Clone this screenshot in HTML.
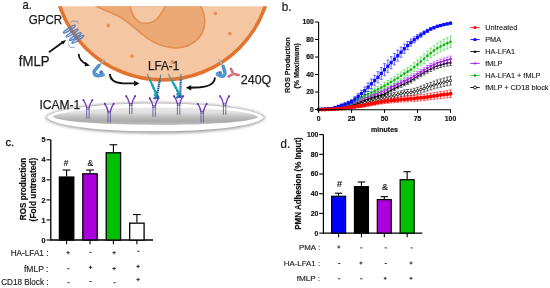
<!DOCTYPE html>
<html><head><meta charset="utf-8"><style>
html,body{margin:0;padding:0;background:#fff;width:550px;height:288px;overflow:hidden}
svg{display:block;will-change:transform}
text{font-family:"Liberation Sans",sans-serif}
</style></head><body>
<svg width="550" height="288" viewBox="0 0 550 288">
<rect width="550" height="288" fill="#fff"/>
<defs>
<clipPath id="cellclip"><rect x="0" y="6.3" width="300" height="120"/></clipPath>
<linearGradient id="plat" x1="0" y1="0" x2="0" y2="1"><stop offset="0" stop-color="#e8e8e8"/><stop offset="0.28" stop-color="#e0e0e0"/><stop offset="0.52" stop-color="#c2c2c2"/><stop offset="0.76" stop-color="#acacac"/><stop offset="0.9" stop-color="#b4b4b4"/><stop offset="1" stop-color="#cacaca"/></linearGradient>
<radialGradient id="platr" cx="0.5" cy="0.75" r="0.6"><stop offset="0" stop-color="#9c9c9c"/><stop offset="0.6" stop-color="#c4c4c4"/><stop offset="1" stop-color="#ececec"/></radialGradient>
<filter id="blur1" x="-20%" y="-50%" width="140%" height="200%"><feGaussianBlur stdDeviation="1.6"/></filter>
<filter id="blur05"><feGaussianBlur stdDeviation="0.35"/></filter>
</defs>
<path d="M 45.0 117.6 C 60 97.6, 250 97.6, 265.4 117.8 C 250 138.6, 60 138.6, 45.0 117.6 Z" fill="#8a8a8a" opacity="0.85" filter="url(#blur1)"/>
<path d="M 46.5 117.2 C 61.5 98.9, 248.9 98.9, 263.9 117.4 C 248.9 136.0, 61.5 136.0, 46.5 117.2 Z" fill="#ffffff"/>
<path d="M 52.5 116.8 C 67.5 104.5, 243.3 104.5, 258.3 117.0 C 243.3 127.6, 67.5 127.6, 52.5 116.8 Z" fill="url(#plat)"/>
<g clip-path="url(#cellclip)">
<circle cx="162.5" cy="-28.5" r="108.4" fill="#f4c7a2" stroke="#e3742f" stroke-width="3.6"/>
<path d="M 94.5 5 C 101 9, 112 13, 118 16 C 126 20, 134 27, 142 34 C 148 40, 160 47, 174 47.8 C 186 48.5, 197 42, 201.5 34 C 205.5 27, 206 17, 202 9 L 200 5 Z" fill="#eca976" stroke="#e38f55" stroke-width="1.7"/>
<path d="M 129.8 5 C 131 12, 134 19, 140 22.5 C 146 24.5, 153 23, 157 19 C 161 15, 163 10, 166.1 5 Z" fill="#f4c7a2" stroke="#e38f55" stroke-width="1.7"/>
<circle cx="108.2" cy="25.5" r="1.9" fill="#e8925a"/>
<circle cx="131.9" cy="56.2" r="1.9" fill="#e8925a"/>
<circle cx="172.4" cy="62" r="1.9" fill="#e8925a"/>
<circle cx="215.3" cy="13.4" r="1.9" fill="#e8925a"/>
<circle cx="229.9" cy="33.6" r="1.9" fill="#e8925a"/>
</g>
<ellipse cx="69.3" cy="29.1" rx="7.0" ry="1.2" transform="rotate(-33 69.3 29.1)" fill="none" stroke="#3d6bb8" stroke-width="1.35"/>
<ellipse cx="69.3" cy="29.1" rx="7.0" ry="1.2" transform="rotate(-33 69.3 29.1)" fill="none" stroke="#78a4e2" stroke-width="0.45"/>
<ellipse cx="72.2" cy="33.0" rx="7.0" ry="1.2" transform="rotate(-33 72.2 33.0)" fill="none" stroke="#3d6bb8" stroke-width="1.35"/>
<ellipse cx="72.2" cy="33.0" rx="7.0" ry="1.2" transform="rotate(-33 72.2 33.0)" fill="none" stroke="#78a4e2" stroke-width="0.45"/>
<ellipse cx="75.2" cy="36.6" rx="7.0" ry="1.2" transform="rotate(-33 75.2 36.6)" fill="none" stroke="#3d6bb8" stroke-width="1.35"/>
<ellipse cx="75.2" cy="36.6" rx="7.0" ry="1.2" transform="rotate(-33 75.2 36.6)" fill="none" stroke="#78a4e2" stroke-width="0.45"/>
<ellipse cx="77.9" cy="39.3" rx="7.0" ry="1.2" transform="rotate(-33 77.9 39.3)" fill="none" stroke="#3d6bb8" stroke-width="1.35"/>
<ellipse cx="77.9" cy="39.3" rx="7.0" ry="1.2" transform="rotate(-33 77.9 39.3)" fill="none" stroke="#78a4e2" stroke-width="0.45"/>
<path d="M 70.5 22.5 L 72.5 21.0 L 77.5 21.4 L 78.6 23.6" fill="none" stroke="#4a78c4" stroke-width="0.65"/>
<path d="M 68.0 43.5 L 70.5 47.6 L 74.8 47.2" fill="none" stroke="#4a78c4" stroke-width="0.65"/>
<text x="22.60" y="8.80" font-size="12.2" text-anchor="start" font-weight="normal" fill="#1a1a1a" textLength="9.30" lengthAdjust="spacingAndGlyphs" stroke="#1a1a1a" stroke-width="0.2">a.</text>
<text x="28.80" y="24.30" font-size="12.4" text-anchor="start" font-weight="normal" fill="#1a1a1a" textLength="33.40" lengthAdjust="spacingAndGlyphs" stroke="#1a1a1a" stroke-width="0.25">GPCR</text>
<text x="18.80" y="66.00" font-size="14" text-anchor="start" font-weight="normal" fill="#1a1a1a" textLength="30.70" lengthAdjust="spacingAndGlyphs" stroke="#1a1a1a" stroke-width="0.25">fMLP</text>
<text x="39.40" y="109.30" font-size="13" text-anchor="start" font-weight="normal" fill="#1a1a1a" textLength="40.80" lengthAdjust="spacingAndGlyphs" stroke="#1a1a1a" stroke-width="0.25">ICAM-1</text>
<text x="148.00" y="70.30" font-size="13" text-anchor="start" font-weight="normal" fill="#1a1a1a" textLength="31.30" lengthAdjust="spacingAndGlyphs" stroke="#1a1a1a" stroke-width="0.25">LFA-1</text>
<text x="240.80" y="83.90" font-size="12.8" text-anchor="start" font-weight="normal" fill="#1a1a1a" textLength="30.45" lengthAdjust="spacingAndGlyphs" stroke="#1a1a1a" stroke-width="0.25">240Q</text>
<line x1="48.9" y1="52.2" x2="63.5" y2="41.8" stroke="#111" stroke-width="1.8"/>
<path d="M 66.2 39.9 L 60.8 41.4 L 63.3 44.6 Z" fill="#111"/>
<path d="M 78.7 53.9 C 78.5 58, 82 62.5, 87 64.5" fill="none" stroke="#111" stroke-width="1.8"/>
<path d="M 90 65.8 L 85.2 61.8 L 84.6 66.2 Z" fill="#111"/>
<path d="M 109.9 73.9 C 110 79, 114 82.5, 122 83.2 L 135 83.4" fill="none" stroke="#111" stroke-width="1.9"/>
<path d="M 139.5 83.4 L 134 80.6 L 134 86.2 Z" fill="#111"/>
<path d="M 215 77.5 C 214.5 83, 210 86.5, 200 87.3 L 190 87.7" fill="none" stroke="#111" stroke-width="1.9"/>
<path d="M 185.8 87.8 L 191.2 85 L 191.2 90.6 Z" fill="#111"/>
<path d="M 104.6 59.4 L 99.4 65.2" fill="none" stroke="#8aa0b8" stroke-width="1.7"/>
<path d="M 104.6 59.4 L 99.4 65.2" fill="none" stroke="#dfe8f0" stroke-width="0.5"/>
<path d="M 98.8 65.6 L 94.2 71.0 C 93.4 74.2, 95.2 76.0, 98.2 75.8 L 102.6 74.8" fill="none" stroke="#4a8bc9" stroke-width="3.4" stroke-linecap="round" stroke-linejoin="round"/>
<circle cx="101.2" cy="72.2" r="2.0" fill="#4583c6"/>
<circle cx="103.2" cy="74.8" r="1.7" fill="#5b9dd4"/>
<circle cx="96.2" cy="74.6" r="2.0" fill="#5b9dd4"/>
<path d="M 98.8 65.6 L 94.2 71.0 C 93.4 74.2, 95.2 76.0, 98.2 75.8 L 102.6 74.8" fill="none" stroke="#5d9fd6" stroke-width="1.2" stroke-linecap="round" stroke-linejoin="round" opacity="0.8"/>
<path d="M 218.8 59.2 L 223.0 66.2" fill="none" stroke="#8aa0b8" stroke-width="1.7"/>
<path d="M 218.8 59.2 L 223.0 66.2" fill="none" stroke="#dfe8f0" stroke-width="0.5"/>
<path d="M 223.2 66.6 L 225.0 72.2 C 225.4 75.6, 223 77, 220.2 76.0 L 217.4 73.8" fill="none" stroke="#4a8bc9" stroke-width="3.4" stroke-linecap="round" stroke-linejoin="round"/>
<circle cx="220.0" cy="73.0" r="2.1" fill="#4583c6"/>
<circle cx="217.6" cy="74.6" r="1.8" fill="#5b9dd4"/>
<circle cx="223.0" cy="75.8" r="1.9" fill="#5b9dd4"/>
<path d="M 223.2 66.6 L 225.0 72.2 C 225.4 75.6, 223 77, 220.2 76.0 L 217.4 73.8" fill="none" stroke="#5d9fd6" stroke-width="1.2" stroke-linecap="round" stroke-linejoin="round" opacity="0.8"/>
<path d="M 233.4 73.8 L 230.8 68.8 M 233.4 73.8 L 238.6 75.0 M 233.4 73.8 L 228.6 76.4" stroke="#c44e58" stroke-width="2.4" fill="none" stroke-linecap="round"/>
<path d="M 233.4 73.8 L 230.8 68.8 M 233.4 73.8 L 238.6 75.0 M 233.4 73.8 L 228.6 76.4" stroke="#f2b8bc" stroke-width="0.6" fill="none" stroke-linecap="round"/>
<line x1="147.2" y1="74" x2="149.7" y2="79.45" stroke="#5f8f9c" stroke-width="1.2"/>
<line x1="149.7" y1="79.45" x2="157.2" y2="95.8" stroke="#1b9fb3" stroke-width="2.0"/>
<circle cx="152.20" cy="84.90" r="1.35" fill="#1b9fb3"/>
<circle cx="153.80" cy="88.39" r="1.35" fill="#1b9fb3"/>
<circle cx="155.20" cy="91.44" r="1.35" fill="#1b9fb3"/>
<line x1="160.8" y1="74.5" x2="159.8" y2="80.025" stroke="#5a7f98" stroke-width="1.2"/>
<line x1="159.8" y1="80.025" x2="156.8" y2="96.6" stroke="#1c68a8" stroke-width="2.2" stroke-dasharray="1.5 0.45"/>
<circle cx="157.2" cy="97.0" r="2.1" fill="#1c68a8"/>
<circle cx="155.39999999999998" cy="95.0" r="1.7" fill="#1b9fb3"/>
<circle cx="154.6" cy="98.2" r="1.2" fill="#1c68a8"/>
<line x1="168.4" y1="74" x2="171.2" y2="79.2" stroke="#5f8f9c" stroke-width="1.2"/>
<line x1="171.2" y1="79.2" x2="179.6" y2="94.8" stroke="#1b9fb3" stroke-width="2.0"/>
<circle cx="174.00" cy="84.40" r="1.35" fill="#1b9fb3"/>
<circle cx="175.79" cy="87.73" r="1.35" fill="#1b9fb3"/>
<circle cx="177.36" cy="90.64" r="1.35" fill="#1b9fb3"/>
<line x1="181.0" y1="74.0" x2="180.8" y2="79.5" stroke="#5a7f98" stroke-width="1.2"/>
<line x1="180.8" y1="79.5" x2="180.2" y2="96.0" stroke="#1c68a8" stroke-width="2.2" stroke-dasharray="1.5 0.45"/>
<circle cx="179.8" cy="96.2" r="2.1" fill="#1c68a8"/>
<circle cx="178.0" cy="94.2" r="1.7" fill="#1b9fb3"/>
<circle cx="177.20000000000002" cy="97.4" r="1.2" fill="#1c68a8"/>
<path d="M 86.7 107.7 L 86.7 118.7 M 89.10000000000001 107.7 L 89.10000000000001 118.7" stroke="#5f4f9e" stroke-width="0.85"/>
<path d="M 83.30000000000001 99.9 Q 85.7 103.10000000000001 86.7 107.7 M 92.5 99.9 Q 90.10000000000001 103.10000000000001 89.10000000000001 107.7" stroke="#7a3fbd" stroke-width="1.35" fill="none" stroke-linecap="round"/>
<circle cx="83.5" cy="100.2" r="0.95" fill="#6a2fb0"/><circle cx="92.30000000000001" cy="100.2" r="0.95" fill="#6a2fb0"/>
<path d="M 86.30000000000001 107.7 L 89.5 107.7 M 86.30000000000001 109.3 L 89.5 109.3" stroke="#4f3a98" stroke-width="0.7"/>
<path d="M 108.0 111.3 L 108.0 122.4 M 110.4 111.3 L 110.4 122.4" stroke="#5f4f9e" stroke-width="0.85"/>
<path d="M 104.60000000000001 103.5 Q 107.0 106.7 108.0 111.3 M 113.8 103.5 Q 111.4 106.7 110.4 111.3" stroke="#7a3fbd" stroke-width="1.35" fill="none" stroke-linecap="round"/>
<circle cx="104.8" cy="103.8" r="0.95" fill="#6a2fb0"/><circle cx="113.60000000000001" cy="103.8" r="0.95" fill="#6a2fb0"/>
<path d="M 107.60000000000001 111.3 L 110.8 111.3 M 107.60000000000001 112.89999999999999 L 110.8 112.89999999999999" stroke="#4f3a98" stroke-width="0.7"/>
<path d="M 129.5 103.8 L 129.5 114.2 M 131.89999999999998 103.8 L 131.89999999999998 114.2" stroke="#5f4f9e" stroke-width="0.85"/>
<path d="M 126.1 96 Q 128.5 99.2 129.5 103.8 M 135.29999999999998 96 Q 132.89999999999998 99.2 131.89999999999998 103.8" stroke="#7a3fbd" stroke-width="1.35" fill="none" stroke-linecap="round"/>
<circle cx="126.29999999999998" cy="96.3" r="0.95" fill="#6a2fb0"/><circle cx="135.1" cy="96.3" r="0.95" fill="#6a2fb0"/>
<path d="M 129.1 103.8 L 132.29999999999998 103.8 M 129.1 105.39999999999999 L 132.29999999999998 105.39999999999999" stroke="#4f3a98" stroke-width="0.7"/>
<path d="M 152.9 105.8 L 152.9 116.9 M 155.29999999999998 105.8 L 155.29999999999998 116.9" stroke="#5f4f9e" stroke-width="0.85"/>
<path d="M 149.5 98 Q 151.9 101.2 152.9 105.8 M 158.7 98 Q 156.29999999999998 101.2 155.29999999999998 105.8" stroke="#7a3fbd" stroke-width="1.35" fill="none" stroke-linecap="round"/>
<circle cx="149.7" cy="98.3" r="0.95" fill="#6a2fb0"/><circle cx="158.5" cy="98.3" r="0.95" fill="#6a2fb0"/>
<path d="M 152.5 105.8 L 155.7 105.8 M 152.5 107.39999999999999 L 155.7 107.39999999999999" stroke="#4f3a98" stroke-width="0.7"/>
<path d="M 177.4 103.8 L 177.4 114.8 M 179.79999999999998 103.8 L 179.79999999999998 114.8" stroke="#5f4f9e" stroke-width="0.85"/>
<path d="M 174.0 96 Q 176.4 99.2 177.4 103.8 M 183.2 96 Q 180.79999999999998 99.2 179.79999999999998 103.8" stroke="#7a3fbd" stroke-width="1.35" fill="none" stroke-linecap="round"/>
<circle cx="174.2" cy="96.3" r="0.95" fill="#6a2fb0"/><circle cx="183.0" cy="96.3" r="0.95" fill="#6a2fb0"/>
<path d="M 177.0 103.8 L 180.2 103.8 M 177.0 105.39999999999999 L 180.2 105.39999999999999" stroke="#4f3a98" stroke-width="0.7"/>
<path d="M 201.0 111.5 L 201.0 122.5 M 203.39999999999998 111.5 L 203.39999999999998 122.5" stroke="#5f4f9e" stroke-width="0.85"/>
<path d="M 197.6 103.7 Q 200.0 106.9 201.0 111.5 M 206.79999999999998 103.7 Q 204.39999999999998 106.9 203.39999999999998 111.5" stroke="#7a3fbd" stroke-width="1.35" fill="none" stroke-linecap="round"/>
<circle cx="197.79999999999998" cy="104.0" r="0.95" fill="#6a2fb0"/><circle cx="206.6" cy="104.0" r="0.95" fill="#6a2fb0"/>
<path d="M 200.6 111.5 L 203.79999999999998 111.5 M 200.6 113.1 L 203.79999999999998 113.1" stroke="#4f3a98" stroke-width="0.7"/>
<path d="M 223.4 103.8 L 223.4 114.8 M 225.79999999999998 103.8 L 225.79999999999998 114.8" stroke="#5f4f9e" stroke-width="0.85"/>
<path d="M 220.0 96 Q 222.4 99.2 223.4 103.8 M 229.2 96 Q 226.79999999999998 99.2 225.79999999999998 103.8" stroke="#7a3fbd" stroke-width="1.35" fill="none" stroke-linecap="round"/>
<circle cx="220.2" cy="96.3" r="0.95" fill="#6a2fb0"/><circle cx="229.0" cy="96.3" r="0.95" fill="#6a2fb0"/>
<path d="M 223.0 103.8 L 226.2 103.8 M 223.0 105.39999999999999 L 226.2 105.39999999999999" stroke="#4f3a98" stroke-width="0.7"/>
<g>
<path d="M 331.79 108.41 L 331.79 110.07 M 330.39 108.41 L 333.19 108.41 M 330.39 110.07 L 333.19 110.07" stroke="#000000" stroke-width="0.75" opacity="0.8"/>
<path d="M 335.09 107.83 L 335.09 109.69 M 333.69 107.83 L 336.49 107.83 M 333.69 109.69 L 336.49 109.69" stroke="#000000" stroke-width="0.75" opacity="0.8"/>
<path d="M 338.38 107.25 L 338.38 109.30 M 336.99 107.25 L 339.78 107.25 M 336.99 109.30 L 339.78 109.30" stroke="#000000" stroke-width="0.75" opacity="0.8"/>
<path d="M 341.68 106.67 L 341.68 108.92 M 340.28 106.67 L 343.08 106.67 M 340.28 108.92 L 343.08 108.92" stroke="#000000" stroke-width="0.75" opacity="0.8"/>
<path d="M 344.98 106.09 L 344.98 108.54 M 343.58 106.09 L 346.38 106.09 M 343.58 108.54 L 346.38 108.54" stroke="#000000" stroke-width="0.75" opacity="0.8"/>
<path d="M 348.28 105.33 L 348.28 107.98 M 346.88 105.33 L 349.68 105.33 M 346.88 107.98 L 349.68 107.98" stroke="#000000" stroke-width="0.75" opacity="0.8"/>
<path d="M 351.58 104.58 L 351.58 107.42 M 350.18 104.58 L 352.98 104.58 M 350.18 107.42 L 352.98 107.42" stroke="#000000" stroke-width="0.75" opacity="0.8"/>
<path d="M 354.87 103.69 L 354.87 106.73 M 353.47 103.69 L 356.27 103.69 M 353.47 106.73 L 356.27 106.73" stroke="#000000" stroke-width="0.75" opacity="0.8"/>
<path d="M 358.17 102.81 L 358.17 106.04 M 356.77 102.81 L 359.57 102.81 M 356.77 106.04 L 359.57 106.04" stroke="#000000" stroke-width="0.75" opacity="0.8"/>
<path d="M 361.47 101.79 L 361.47 105.22 M 360.07 101.79 L 362.87 101.79 M 360.07 105.22 L 362.87 105.22" stroke="#000000" stroke-width="0.75" opacity="0.8"/>
<path d="M 364.76 100.77 L 364.76 104.40 M 363.37 100.77 L 366.16 100.77 M 363.37 104.40 L 366.16 104.40" stroke="#000000" stroke-width="0.75" opacity="0.8"/>
<path d="M 368.06 99.93 L 368.06 103.76 M 366.66 99.93 L 369.46 99.93 M 366.66 103.76 L 369.46 103.76" stroke="#000000" stroke-width="0.75" opacity="0.8"/>
<path d="M 371.36 99.09 L 371.36 103.11 M 369.96 99.09 L 372.76 99.09 M 369.96 103.11 L 372.76 103.11" stroke="#000000" stroke-width="0.75" opacity="0.8"/>
<path d="M 374.66 98.11 L 374.66 102.34 M 373.26 98.11 L 376.06 98.11 M 373.26 102.34 L 376.06 102.34" stroke="#000000" stroke-width="0.75" opacity="0.8"/>
<path d="M 377.96 97.14 L 377.96 101.56 M 376.56 97.14 L 379.36 97.14 M 376.56 101.56 L 379.36 101.56" stroke="#000000" stroke-width="0.75" opacity="0.8"/>
<path d="M 381.25 96.12 L 381.25 100.74 M 379.85 96.12 L 382.65 96.12 M 379.85 100.74 L 382.65 100.74" stroke="#000000" stroke-width="0.75" opacity="0.8"/>
<path d="M 384.55 95.11 L 384.55 99.92 M 383.15 95.11 L 385.95 95.11 M 383.15 99.92 L 385.95 99.92" stroke="#000000" stroke-width="0.75" opacity="0.8"/>
<path d="M 387.85 94.35 L 387.85 99.36 M 386.45 94.35 L 389.25 94.35 M 386.45 99.36 L 389.25 99.36" stroke="#000000" stroke-width="0.75" opacity="0.8"/>
<path d="M 391.14 93.60 L 391.14 98.80 M 389.75 93.60 L 392.54 93.60 M 389.75 98.80 L 392.54 98.80" stroke="#000000" stroke-width="0.75" opacity="0.8"/>
<path d="M 394.44 92.71 L 394.44 98.11 M 393.04 92.71 L 395.84 92.71 M 393.04 98.11 L 395.84 98.11" stroke="#000000" stroke-width="0.75" opacity="0.8"/>
<path d="M 397.74 91.83 L 397.74 97.42 M 396.34 91.83 L 399.14 91.83 M 396.34 97.42 L 399.14 97.42" stroke="#000000" stroke-width="0.75" opacity="0.8"/>
<path d="M 401.04 90.85 L 401.04 96.65 M 399.64 90.85 L 402.44 90.85 M 399.64 96.65 L 402.44 96.65" stroke="#000000" stroke-width="0.75" opacity="0.8"/>
<path d="M 404.34 89.88 L 404.34 95.87 M 402.94 89.88 L 405.74 89.88 M 402.94 95.87 L 405.74 95.87" stroke="#000000" stroke-width="0.75" opacity="0.8"/>
<path d="M 407.63 89.56 L 407.63 95.75 M 406.23 89.56 L 409.03 89.56 M 406.23 95.75 L 409.03 95.75" stroke="#000000" stroke-width="0.75" opacity="0.8"/>
<path d="M 410.93 89.24 L 410.93 95.63 M 409.53 89.24 L 412.33 89.24 M 409.53 95.63 L 412.33 95.63" stroke="#000000" stroke-width="0.75" opacity="0.8"/>
<path d="M 414.23 88.27 L 414.23 94.85 M 412.83 88.27 L 415.63 88.27 M 412.83 94.85 L 415.63 94.85" stroke="#000000" stroke-width="0.75" opacity="0.8"/>
<path d="M 417.52 87.30 L 417.52 94.08 M 416.12 87.30 L 418.92 87.30 M 416.12 94.08 L 418.92 94.08" stroke="#000000" stroke-width="0.75" opacity="0.8"/>
<path d="M 420.82 86.10 L 420.82 93.08 M 419.42 86.10 L 422.22 86.10 M 419.42 93.08 L 422.22 93.08" stroke="#000000" stroke-width="0.75" opacity="0.8"/>
<path d="M 424.12 84.91 L 424.12 92.09 M 422.72 84.91 L 425.52 84.91 M 422.72 92.09 L 425.52 92.09" stroke="#000000" stroke-width="0.75" opacity="0.8"/>
<path d="M 427.42 83.59 L 427.42 90.96 M 426.02 83.59 L 428.82 83.59 M 426.02 90.96 L 428.82 90.96" stroke="#000000" stroke-width="0.75" opacity="0.8"/>
<path d="M 430.72 82.27 L 430.72 89.83 M 429.32 82.27 L 432.12 82.27 M 429.32 89.83 L 432.12 89.83" stroke="#000000" stroke-width="0.75" opacity="0.8"/>
<path d="M 434.01 81.12 L 434.01 88.88 M 432.61 81.12 L 435.41 81.12 M 432.61 88.88 L 435.41 88.88" stroke="#000000" stroke-width="0.75" opacity="0.8"/>
<path d="M 437.31 79.97 L 437.31 87.93 M 435.91 79.97 L 438.71 79.97 M 435.91 87.93 L 438.71 87.93" stroke="#000000" stroke-width="0.75" opacity="0.8"/>
<path d="M 440.61 79.00 L 440.61 87.15 M 439.21 79.00 L 442.01 79.00 M 439.21 87.15 L 442.01 87.15" stroke="#000000" stroke-width="0.75" opacity="0.8"/>
<path d="M 443.90 78.02 L 443.90 86.38 M 442.50 78.02 L 445.30 78.02 M 442.50 86.38 L 445.30 86.38" stroke="#000000" stroke-width="0.75" opacity="0.8"/>
<path d="M 447.20 77.14 L 447.20 85.69 M 445.80 77.14 L 448.60 77.14 M 445.80 85.69 L 448.60 85.69" stroke="#000000" stroke-width="0.75" opacity="0.8"/>
<path d="M 450.50 76.25 L 450.50 85.00 M 449.10 76.25 L 451.90 76.25 M 449.10 85.00 L 451.90 85.00" stroke="#000000" stroke-width="0.75" opacity="0.8"/>
<path d="M 318.60 109.50 L 321.90 109.43 L 325.20 109.37 L 328.49 109.30 L 331.79 109.24 L 335.09 108.76 L 338.38 108.28 L 341.68 107.79 L 344.98 107.31 L 348.28 106.66 L 351.58 106.00 L 354.87 105.21 L 358.17 104.42 L 361.47 103.51 L 364.76 102.59 L 368.06 101.84 L 371.36 101.10 L 374.66 100.22 L 377.96 99.35 L 381.25 98.43 L 384.55 97.51 L 387.85 96.86 L 391.14 96.20 L 394.44 95.41 L 397.74 94.62 L 401.04 93.75 L 404.34 92.88 L 407.63 92.66 L 410.93 92.44 L 414.23 91.56 L 417.52 90.69 L 420.82 89.59 L 424.12 88.50 L 427.42 87.28 L 430.72 86.05 L 434.01 85.00 L 437.31 83.95 L 440.61 83.08 L 443.90 82.20 L 447.20 81.41 L 450.50 80.62" fill="none" stroke="#000000" stroke-width="0.9"/>
<circle cx="318.60" cy="109.50" r="1.2" fill="#fff" stroke="#000" stroke-width="0.7"/>
<circle cx="321.90" cy="109.43" r="1.2" fill="#fff" stroke="#000" stroke-width="0.7"/>
<circle cx="325.20" cy="109.37" r="1.2" fill="#fff" stroke="#000" stroke-width="0.7"/>
<circle cx="328.49" cy="109.30" r="1.2" fill="#fff" stroke="#000" stroke-width="0.7"/>
<circle cx="331.79" cy="109.24" r="1.2" fill="#fff" stroke="#000" stroke-width="0.7"/>
<circle cx="335.09" cy="108.76" r="1.2" fill="#fff" stroke="#000" stroke-width="0.7"/>
<circle cx="338.38" cy="108.28" r="1.2" fill="#fff" stroke="#000" stroke-width="0.7"/>
<circle cx="341.68" cy="107.79" r="1.2" fill="#fff" stroke="#000" stroke-width="0.7"/>
<circle cx="344.98" cy="107.31" r="1.2" fill="#fff" stroke="#000" stroke-width="0.7"/>
<circle cx="348.28" cy="106.66" r="1.2" fill="#fff" stroke="#000" stroke-width="0.7"/>
<circle cx="351.58" cy="106.00" r="1.2" fill="#fff" stroke="#000" stroke-width="0.7"/>
<circle cx="354.87" cy="105.21" r="1.2" fill="#fff" stroke="#000" stroke-width="0.7"/>
<circle cx="358.17" cy="104.42" r="1.2" fill="#fff" stroke="#000" stroke-width="0.7"/>
<circle cx="361.47" cy="103.51" r="1.2" fill="#fff" stroke="#000" stroke-width="0.7"/>
<circle cx="364.76" cy="102.59" r="1.2" fill="#fff" stroke="#000" stroke-width="0.7"/>
<circle cx="368.06" cy="101.84" r="1.2" fill="#fff" stroke="#000" stroke-width="0.7"/>
<circle cx="371.36" cy="101.10" r="1.2" fill="#fff" stroke="#000" stroke-width="0.7"/>
<circle cx="374.66" cy="100.22" r="1.2" fill="#fff" stroke="#000" stroke-width="0.7"/>
<circle cx="377.96" cy="99.35" r="1.2" fill="#fff" stroke="#000" stroke-width="0.7"/>
<circle cx="381.25" cy="98.43" r="1.2" fill="#fff" stroke="#000" stroke-width="0.7"/>
<circle cx="384.55" cy="97.51" r="1.2" fill="#fff" stroke="#000" stroke-width="0.7"/>
<circle cx="387.85" cy="96.86" r="1.2" fill="#fff" stroke="#000" stroke-width="0.7"/>
<circle cx="391.14" cy="96.20" r="1.2" fill="#fff" stroke="#000" stroke-width="0.7"/>
<circle cx="394.44" cy="95.41" r="1.2" fill="#fff" stroke="#000" stroke-width="0.7"/>
<circle cx="397.74" cy="94.62" r="1.2" fill="#fff" stroke="#000" stroke-width="0.7"/>
<circle cx="401.04" cy="93.75" r="1.2" fill="#fff" stroke="#000" stroke-width="0.7"/>
<circle cx="404.34" cy="92.88" r="1.2" fill="#fff" stroke="#000" stroke-width="0.7"/>
<circle cx="407.63" cy="92.66" r="1.2" fill="#fff" stroke="#000" stroke-width="0.7"/>
<circle cx="410.93" cy="92.44" r="1.2" fill="#fff" stroke="#000" stroke-width="0.7"/>
<circle cx="414.23" cy="91.56" r="1.2" fill="#fff" stroke="#000" stroke-width="0.7"/>
<circle cx="417.52" cy="90.69" r="1.2" fill="#fff" stroke="#000" stroke-width="0.7"/>
<circle cx="420.82" cy="89.59" r="1.2" fill="#fff" stroke="#000" stroke-width="0.7"/>
<circle cx="424.12" cy="88.50" r="1.2" fill="#fff" stroke="#000" stroke-width="0.7"/>
<circle cx="427.42" cy="87.28" r="1.2" fill="#fff" stroke="#000" stroke-width="0.7"/>
<circle cx="430.72" cy="86.05" r="1.2" fill="#fff" stroke="#000" stroke-width="0.7"/>
<circle cx="434.01" cy="85.00" r="1.2" fill="#fff" stroke="#000" stroke-width="0.7"/>
<circle cx="437.31" cy="83.95" r="1.2" fill="#fff" stroke="#000" stroke-width="0.7"/>
<circle cx="440.61" cy="83.08" r="1.2" fill="#fff" stroke="#000" stroke-width="0.7"/>
<circle cx="443.90" cy="82.20" r="1.2" fill="#fff" stroke="#000" stroke-width="0.7"/>
<circle cx="447.20" cy="81.41" r="1.2" fill="#fff" stroke="#000" stroke-width="0.7"/>
<circle cx="450.50" cy="80.62" r="1.2" fill="#fff" stroke="#000" stroke-width="0.7"/>
<path d="M 338.38 106.92 L 338.38 108.58 M 336.99 106.92 L 339.78 106.92 M 336.99 108.58 L 339.78 108.58" stroke="#000000" stroke-width="0.75" opacity="0.8"/>
<path d="M 341.68 106.20 L 341.68 107.99 M 340.28 106.20 L 343.08 106.20 M 340.28 107.99 L 343.08 107.99" stroke="#000000" stroke-width="0.75" opacity="0.8"/>
<path d="M 344.98 105.47 L 344.98 107.40 M 343.58 105.47 L 346.38 105.47 M 343.58 107.40 L 346.38 107.40" stroke="#000000" stroke-width="0.75" opacity="0.8"/>
<path d="M 348.28 104.53 L 348.28 106.59 M 346.88 104.53 L 349.68 104.53 M 346.88 106.59 L 349.68 106.59" stroke="#000000" stroke-width="0.75" opacity="0.8"/>
<path d="M 351.58 103.59 L 351.58 105.78 M 350.18 103.59 L 352.98 103.59 M 350.18 105.78 L 352.98 105.78" stroke="#000000" stroke-width="0.75" opacity="0.8"/>
<path d="M 354.87 102.43 L 354.87 104.75 M 353.47 102.43 L 356.27 102.43 M 353.47 104.75 L 356.27 104.75" stroke="#000000" stroke-width="0.75" opacity="0.8"/>
<path d="M 358.17 101.28 L 358.17 103.72 M 356.77 101.28 L 359.57 101.28 M 356.77 103.72 L 359.57 103.72" stroke="#000000" stroke-width="0.75" opacity="0.8"/>
<path d="M 361.47 99.98 L 361.47 102.57 M 360.07 99.98 L 362.87 99.98 M 360.07 102.57 L 362.87 102.57" stroke="#000000" stroke-width="0.75" opacity="0.8"/>
<path d="M 364.76 98.69 L 364.76 101.41 M 363.37 98.69 L 366.16 98.69 M 363.37 101.41 L 366.16 101.41" stroke="#000000" stroke-width="0.75" opacity="0.8"/>
<path d="M 368.06 97.45 L 368.06 100.29 M 366.66 97.45 L 369.46 97.45 M 366.66 100.29 L 369.46 100.29" stroke="#000000" stroke-width="0.75" opacity="0.8"/>
<path d="M 371.36 96.20 L 371.36 99.17 M 369.96 96.20 L 372.76 96.20 M 369.96 99.17 L 372.76 99.17" stroke="#000000" stroke-width="0.75" opacity="0.8"/>
<path d="M 374.66 95.22 L 374.66 98.32 M 373.26 95.22 L 376.06 95.22 M 373.26 98.32 L 376.06 98.32" stroke="#000000" stroke-width="0.75" opacity="0.8"/>
<path d="M 377.96 94.23 L 377.96 97.47 M 376.56 94.23 L 379.36 94.23 M 376.56 97.47 L 379.36 97.47" stroke="#000000" stroke-width="0.75" opacity="0.8"/>
<path d="M 381.25 93.29 L 381.25 96.66 M 379.85 93.29 L 382.65 93.29 M 379.85 96.66 L 382.65 96.66" stroke="#000000" stroke-width="0.75" opacity="0.8"/>
<path d="M 384.55 92.35 L 384.55 95.85 M 383.15 92.35 L 385.95 92.35 M 383.15 95.85 L 385.95 95.85" stroke="#000000" stroke-width="0.75" opacity="0.8"/>
<path d="M 387.85 90.36 L 387.85 93.99 M 386.45 90.36 L 389.25 90.36 M 386.45 93.99 L 389.25 93.99" stroke="#000000" stroke-width="0.75" opacity="0.8"/>
<path d="M 391.14 88.37 L 391.14 92.13 M 389.75 88.37 L 392.54 88.37 M 389.75 92.13 L 392.54 92.13" stroke="#000000" stroke-width="0.75" opacity="0.8"/>
<path d="M 394.44 86.55 L 394.44 90.45 M 393.04 86.55 L 395.84 86.55 M 393.04 90.45 L 395.84 90.45" stroke="#000000" stroke-width="0.75" opacity="0.8"/>
<path d="M 397.74 84.74 L 397.74 88.76 M 396.34 84.74 L 399.14 84.74 M 396.34 88.76 L 399.14 88.76" stroke="#000000" stroke-width="0.75" opacity="0.8"/>
<path d="M 401.04 83.14 L 401.04 87.30 M 399.64 83.14 L 402.44 83.14 M 399.64 87.30 L 402.44 87.30" stroke="#000000" stroke-width="0.75" opacity="0.8"/>
<path d="M 404.34 81.54 L 404.34 85.83 M 402.94 81.54 L 405.74 81.54 M 402.94 85.83 L 405.74 85.83" stroke="#000000" stroke-width="0.75" opacity="0.8"/>
<path d="M 407.63 79.95 L 407.63 84.37 M 406.23 79.95 L 409.03 79.95 M 406.23 84.37 L 409.03 84.37" stroke="#000000" stroke-width="0.75" opacity="0.8"/>
<path d="M 410.93 78.35 L 410.93 82.90 M 409.53 78.35 L 412.33 78.35 M 409.53 82.90 L 412.33 82.90" stroke="#000000" stroke-width="0.75" opacity="0.8"/>
<path d="M 414.23 76.10 L 414.23 80.78 M 412.83 76.10 L 415.63 76.10 M 412.83 80.78 L 415.63 80.78" stroke="#000000" stroke-width="0.75" opacity="0.8"/>
<path d="M 417.52 73.84 L 417.52 78.66 M 416.12 73.84 L 418.92 73.84 M 416.12 78.66 L 418.92 78.66" stroke="#000000" stroke-width="0.75" opacity="0.8"/>
<path d="M 420.82 71.81 L 420.82 76.75 M 419.42 71.81 L 422.22 71.81 M 419.42 76.75 L 422.22 76.75" stroke="#000000" stroke-width="0.75" opacity="0.8"/>
<path d="M 424.12 69.78 L 424.12 74.85 M 422.72 69.78 L 425.52 69.78 M 422.72 74.85 L 425.52 74.85" stroke="#000000" stroke-width="0.75" opacity="0.8"/>
<path d="M 427.42 67.96 L 427.42 73.17 M 426.02 67.96 L 428.82 67.96 M 426.02 73.17 L 428.82 73.17" stroke="#000000" stroke-width="0.75" opacity="0.8"/>
<path d="M 430.72 66.14 L 430.72 71.48 M 429.32 66.14 L 432.12 66.14 M 429.32 71.48 L 432.12 71.48" stroke="#000000" stroke-width="0.75" opacity="0.8"/>
<path d="M 434.01 64.55 L 434.01 70.02 M 432.61 64.55 L 435.41 64.55 M 432.61 70.02 L 435.41 70.02" stroke="#000000" stroke-width="0.75" opacity="0.8"/>
<path d="M 437.31 62.95 L 437.31 68.55 M 435.91 62.95 L 438.71 62.95 M 435.91 68.55 L 438.71 68.55" stroke="#000000" stroke-width="0.75" opacity="0.8"/>
<path d="M 440.61 61.92 L 440.61 67.65 M 439.21 61.92 L 442.01 61.92 M 439.21 67.65 L 442.01 67.65" stroke="#000000" stroke-width="0.75" opacity="0.8"/>
<path d="M 443.90 60.89 L 443.90 66.76 M 442.50 60.89 L 445.30 60.89 M 442.50 66.76 L 445.30 66.76" stroke="#000000" stroke-width="0.75" opacity="0.8"/>
<path d="M 447.20 60.13 L 447.20 66.12 M 445.80 60.13 L 448.60 60.13 M 445.80 66.12 L 448.60 66.12" stroke="#000000" stroke-width="0.75" opacity="0.8"/>
<path d="M 450.50 59.36 L 450.50 65.49 M 449.10 59.36 L 451.90 59.36 M 449.10 65.49 L 451.90 65.49" stroke="#000000" stroke-width="0.75" opacity="0.8"/>
<path d="M 318.60 109.50 L 321.90 109.39 L 325.20 109.28 L 328.49 109.17 L 331.79 109.06 L 335.09 108.41 L 338.38 107.75 L 341.68 107.09 L 344.98 106.44 L 348.28 105.56 L 351.58 104.69 L 354.87 103.59 L 358.17 102.50 L 361.47 101.28 L 364.76 100.05 L 368.06 98.87 L 371.36 97.69 L 374.66 96.77 L 377.96 95.85 L 381.25 94.97 L 384.55 94.10 L 387.85 92.17 L 391.14 90.25 L 394.44 88.50 L 397.74 86.75 L 401.04 85.22 L 404.34 83.69 L 407.63 82.16 L 410.93 80.62 L 414.23 78.44 L 417.52 76.25 L 420.82 74.28 L 424.12 72.31 L 427.42 70.56 L 430.72 68.81 L 434.01 67.28 L 437.31 65.75 L 440.61 64.79 L 443.90 63.83 L 447.20 63.12 L 450.50 62.42" fill="none" stroke="#000000" stroke-width="0.9"/>
<path d="M 318.60 108.00 L 320.10 110.60 L 317.10 110.60 Z" fill="#000000"/>
<path d="M 321.90 107.89 L 323.40 110.49 L 320.40 110.49 Z" fill="#000000"/>
<path d="M 325.20 107.78 L 326.70 110.38 L 323.70 110.38 Z" fill="#000000"/>
<path d="M 328.49 107.67 L 329.99 110.27 L 326.99 110.27 Z" fill="#000000"/>
<path d="M 331.79 107.56 L 333.29 110.16 L 330.29 110.16 Z" fill="#000000"/>
<path d="M 335.09 106.91 L 336.59 109.51 L 333.59 109.51 Z" fill="#000000"/>
<path d="M 338.38 106.25 L 339.88 108.85 L 336.88 108.85 Z" fill="#000000"/>
<path d="M 341.68 105.59 L 343.18 108.19 L 340.18 108.19 Z" fill="#000000"/>
<path d="M 344.98 104.94 L 346.48 107.54 L 343.48 107.54 Z" fill="#000000"/>
<path d="M 348.28 104.06 L 349.78 106.66 L 346.78 106.66 Z" fill="#000000"/>
<path d="M 351.58 103.19 L 353.08 105.79 L 350.08 105.79 Z" fill="#000000"/>
<path d="M 354.87 102.09 L 356.37 104.69 L 353.37 104.69 Z" fill="#000000"/>
<path d="M 358.17 101.00 L 359.67 103.60 L 356.67 103.60 Z" fill="#000000"/>
<path d="M 361.47 99.78 L 362.97 102.38 L 359.97 102.38 Z" fill="#000000"/>
<path d="M 364.76 98.55 L 366.26 101.15 L 363.26 101.15 Z" fill="#000000"/>
<path d="M 368.06 97.37 L 369.56 99.97 L 366.56 99.97 Z" fill="#000000"/>
<path d="M 371.36 96.19 L 372.86 98.79 L 369.86 98.79 Z" fill="#000000"/>
<path d="M 374.66 95.27 L 376.16 97.87 L 373.16 97.87 Z" fill="#000000"/>
<path d="M 377.96 94.35 L 379.46 96.95 L 376.46 96.95 Z" fill="#000000"/>
<path d="M 381.25 93.47 L 382.75 96.07 L 379.75 96.07 Z" fill="#000000"/>
<path d="M 384.55 92.60 L 386.05 95.20 L 383.05 95.20 Z" fill="#000000"/>
<path d="M 387.85 90.67 L 389.35 93.27 L 386.35 93.27 Z" fill="#000000"/>
<path d="M 391.14 88.75 L 392.64 91.35 L 389.64 91.35 Z" fill="#000000"/>
<path d="M 394.44 87.00 L 395.94 89.60 L 392.94 89.60 Z" fill="#000000"/>
<path d="M 397.74 85.25 L 399.24 87.85 L 396.24 87.85 Z" fill="#000000"/>
<path d="M 401.04 83.72 L 402.54 86.32 L 399.54 86.32 Z" fill="#000000"/>
<path d="M 404.34 82.19 L 405.84 84.79 L 402.84 84.79 Z" fill="#000000"/>
<path d="M 407.63 80.66 L 409.13 83.26 L 406.13 83.26 Z" fill="#000000"/>
<path d="M 410.93 79.12 L 412.43 81.72 L 409.43 81.72 Z" fill="#000000"/>
<path d="M 414.23 76.94 L 415.73 79.54 L 412.73 79.54 Z" fill="#000000"/>
<path d="M 417.52 74.75 L 419.02 77.35 L 416.02 77.35 Z" fill="#000000"/>
<path d="M 420.82 72.78 L 422.32 75.38 L 419.32 75.38 Z" fill="#000000"/>
<path d="M 424.12 70.81 L 425.62 73.41 L 422.62 73.41 Z" fill="#000000"/>
<path d="M 427.42 69.06 L 428.92 71.66 L 425.92 71.66 Z" fill="#000000"/>
<path d="M 430.72 67.31 L 432.22 69.91 L 429.22 69.91 Z" fill="#000000"/>
<path d="M 434.01 65.78 L 435.51 68.38 L 432.51 68.38 Z" fill="#000000"/>
<path d="M 437.31 64.25 L 438.81 66.85 L 435.81 66.85 Z" fill="#000000"/>
<path d="M 440.61 63.29 L 442.11 65.89 L 439.11 65.89 Z" fill="#000000"/>
<path d="M 443.90 62.33 L 445.40 64.92 L 442.40 64.92 Z" fill="#000000"/>
<path d="M 447.20 61.62 L 448.70 64.22 L 445.70 64.22 Z" fill="#000000"/>
<path d="M 450.50 60.92 L 452.00 63.52 L 449.00 63.52 Z" fill="#000000"/>
<path d="M 338.38 106.61 L 338.38 108.28 M 336.99 106.61 L 339.78 106.61 M 336.99 108.28 L 339.78 108.28" stroke="#a81ef0" stroke-width="0.75" opacity="0.8"/>
<path d="M 341.68 105.74 L 341.68 107.53 M 340.28 105.74 L 343.08 105.74 M 340.28 107.53 L 343.08 107.53" stroke="#a81ef0" stroke-width="0.75" opacity="0.8"/>
<path d="M 344.98 104.86 L 344.98 106.79 M 343.58 104.86 L 346.38 104.86 M 343.58 106.79 L 346.38 106.79" stroke="#a81ef0" stroke-width="0.75" opacity="0.8"/>
<path d="M 348.28 103.79 L 348.28 105.85 M 346.88 103.79 L 349.68 103.79 M 346.88 105.85 L 349.68 105.85" stroke="#a81ef0" stroke-width="0.75" opacity="0.8"/>
<path d="M 351.58 102.72 L 351.58 104.91 M 350.18 102.72 L 352.98 102.72 M 350.18 104.91 L 352.98 104.91" stroke="#a81ef0" stroke-width="0.75" opacity="0.8"/>
<path d="M 354.87 101.34 L 354.87 103.66 M 353.47 101.34 L 356.27 101.34 M 353.47 103.66 L 356.27 103.66" stroke="#a81ef0" stroke-width="0.75" opacity="0.8"/>
<path d="M 358.17 99.96 L 358.17 102.41 M 356.77 99.96 L 359.57 99.96 M 356.77 102.41 L 359.57 102.41" stroke="#a81ef0" stroke-width="0.75" opacity="0.8"/>
<path d="M 361.47 98.37 L 361.47 100.95 M 360.07 98.37 L 362.87 98.37 M 360.07 100.95 L 362.87 100.95" stroke="#a81ef0" stroke-width="0.75" opacity="0.8"/>
<path d="M 364.76 96.77 L 364.76 99.48 M 363.37 96.77 L 366.16 96.77 M 363.37 99.48 L 366.16 99.48" stroke="#a81ef0" stroke-width="0.75" opacity="0.8"/>
<path d="M 368.06 95.39 L 368.06 98.23 M 366.66 95.39 L 369.46 95.39 M 366.66 98.23 L 369.46 98.23" stroke="#a81ef0" stroke-width="0.75" opacity="0.8"/>
<path d="M 371.36 94.01 L 371.36 96.99 M 369.96 94.01 L 372.76 94.01 M 369.96 96.99 L 372.76 96.99" stroke="#a81ef0" stroke-width="0.75" opacity="0.8"/>
<path d="M 374.66 92.63 L 374.66 95.74 M 373.26 92.63 L 376.06 92.63 M 373.26 95.74 L 376.06 95.74" stroke="#a81ef0" stroke-width="0.75" opacity="0.8"/>
<path d="M 377.96 91.26 L 377.96 94.49 M 376.56 91.26 L 379.36 91.26 M 376.56 94.49 L 379.36 94.49" stroke="#a81ef0" stroke-width="0.75" opacity="0.8"/>
<path d="M 381.25 90.05 L 381.25 93.42 M 379.85 90.05 L 382.65 90.05 M 379.85 93.42 L 382.65 93.42" stroke="#a81ef0" stroke-width="0.75" opacity="0.8"/>
<path d="M 384.55 88.85 L 384.55 92.35 M 383.15 88.85 L 385.95 88.85 M 383.15 92.35 L 385.95 92.35" stroke="#a81ef0" stroke-width="0.75" opacity="0.8"/>
<path d="M 387.85 87.08 L 387.85 90.71 M 386.45 87.08 L 389.25 87.08 M 386.45 90.71 L 389.25 90.71" stroke="#a81ef0" stroke-width="0.75" opacity="0.8"/>
<path d="M 391.14 85.31 L 391.14 89.07 M 389.75 85.31 L 392.54 85.31 M 389.75 89.07 L 392.54 89.07" stroke="#a81ef0" stroke-width="0.75" opacity="0.8"/>
<path d="M 394.44 83.71 L 394.44 87.60 M 393.04 83.71 L 395.84 83.71 M 393.04 87.60 L 395.84 87.60" stroke="#a81ef0" stroke-width="0.75" opacity="0.8"/>
<path d="M 397.74 82.11 L 397.74 86.14 M 396.34 82.11 L 399.14 82.11 M 396.34 86.14 L 399.14 86.14" stroke="#a81ef0" stroke-width="0.75" opacity="0.8"/>
<path d="M 401.04 80.52 L 401.04 84.67 M 399.64 80.52 L 402.44 80.52 M 399.64 84.67 L 402.44 84.67" stroke="#a81ef0" stroke-width="0.75" opacity="0.8"/>
<path d="M 404.34 78.92 L 404.34 83.21 M 402.94 78.92 L 405.74 78.92 M 402.94 83.21 L 405.74 83.21" stroke="#a81ef0" stroke-width="0.75" opacity="0.8"/>
<path d="M 407.63 77.32 L 407.63 81.74 M 406.23 77.32 L 409.03 77.32 M 406.23 81.74 L 409.03 81.74" stroke="#a81ef0" stroke-width="0.75" opacity="0.8"/>
<path d="M 410.93 75.72 L 410.93 80.28 M 409.53 75.72 L 412.33 75.72 M 409.53 80.28 L 412.33 80.28" stroke="#a81ef0" stroke-width="0.75" opacity="0.8"/>
<path d="M 414.23 73.69 L 414.23 78.37 M 412.83 73.69 L 415.63 73.69 M 412.83 78.37 L 415.63 78.37" stroke="#a81ef0" stroke-width="0.75" opacity="0.8"/>
<path d="M 417.52 71.66 L 417.52 76.47 M 416.12 71.66 L 418.92 71.66 M 416.12 76.47 L 418.92 76.47" stroke="#a81ef0" stroke-width="0.75" opacity="0.8"/>
<path d="M 420.82 69.62 L 420.82 74.57 M 419.42 69.62 L 422.22 69.62 M 419.42 74.57 L 422.22 74.57" stroke="#a81ef0" stroke-width="0.75" opacity="0.8"/>
<path d="M 424.12 67.59 L 424.12 72.66 M 422.72 67.59 L 425.52 67.59 M 422.72 72.66 L 425.52 72.66" stroke="#a81ef0" stroke-width="0.75" opacity="0.8"/>
<path d="M 427.42 65.55 L 427.42 70.76 M 426.02 65.55 L 428.82 65.55 M 426.02 70.76 L 428.82 70.76" stroke="#a81ef0" stroke-width="0.75" opacity="0.8"/>
<path d="M 430.72 63.52 L 430.72 68.86 M 429.32 63.52 L 432.12 63.52 M 429.32 68.86 L 432.12 68.86" stroke="#a81ef0" stroke-width="0.75" opacity="0.8"/>
<path d="M 434.01 61.92 L 434.01 67.39 M 432.61 61.92 L 435.41 61.92 M 432.61 67.39 L 435.41 67.39" stroke="#a81ef0" stroke-width="0.75" opacity="0.8"/>
<path d="M 437.31 60.33 L 437.31 65.92 M 435.91 60.33 L 438.71 60.33 M 435.91 65.92 L 438.71 65.92" stroke="#a81ef0" stroke-width="0.75" opacity="0.8"/>
<path d="M 440.61 59.17 L 440.61 64.90 M 439.21 59.17 L 442.01 59.17 M 439.21 64.90 L 442.01 64.90" stroke="#a81ef0" stroke-width="0.75" opacity="0.8"/>
<path d="M 443.90 58.01 L 443.90 63.87 M 442.50 58.01 L 445.30 58.01 M 442.50 63.87 L 445.30 63.87" stroke="#a81ef0" stroke-width="0.75" opacity="0.8"/>
<path d="M 447.20 57.07 L 447.20 63.06 M 445.80 57.07 L 448.60 57.07 M 445.80 63.06 L 448.60 63.06" stroke="#a81ef0" stroke-width="0.75" opacity="0.8"/>
<path d="M 450.50 56.12 L 450.50 62.25 M 449.10 56.12 L 451.90 56.12 M 449.10 62.25 L 451.90 62.25" stroke="#a81ef0" stroke-width="0.75" opacity="0.8"/>
<path d="M 318.60 109.50 L 321.90 109.39 L 325.20 109.28 L 328.49 109.17 L 331.79 109.06 L 335.09 108.25 L 338.38 107.44 L 341.68 106.63 L 344.98 105.83 L 348.28 104.82 L 351.58 103.81 L 354.87 102.50 L 358.17 101.19 L 361.47 99.66 L 364.76 98.12 L 368.06 96.81 L 371.36 95.50 L 374.66 94.19 L 377.96 92.88 L 381.25 91.74 L 384.55 90.60 L 387.85 88.89 L 391.14 87.19 L 394.44 85.66 L 397.74 84.12 L 401.04 82.59 L 404.34 81.06 L 407.63 79.53 L 410.93 78.00 L 414.23 76.03 L 417.52 74.06 L 420.82 72.09 L 424.12 70.12 L 427.42 68.16 L 430.72 66.19 L 434.01 64.66 L 437.31 63.12 L 440.61 62.03 L 443.90 60.94 L 447.20 60.06 L 450.50 59.19" fill="none" stroke="#a81ef0" stroke-width="0.9"/>
<path d="M 318.60 111.00 L 320.10 108.40 L 317.10 108.40 Z" fill="#a81ef0"/>
<path d="M 321.90 110.89 L 323.40 108.29 L 320.40 108.29 Z" fill="#a81ef0"/>
<path d="M 325.20 110.78 L 326.70 108.18 L 323.70 108.18 Z" fill="#a81ef0"/>
<path d="M 328.49 110.67 L 329.99 108.07 L 326.99 108.07 Z" fill="#a81ef0"/>
<path d="M 331.79 110.56 L 333.29 107.96 L 330.29 107.96 Z" fill="#a81ef0"/>
<path d="M 335.09 109.75 L 336.59 107.15 L 333.59 107.15 Z" fill="#a81ef0"/>
<path d="M 338.38 108.94 L 339.88 106.34 L 336.88 106.34 Z" fill="#a81ef0"/>
<path d="M 341.68 108.13 L 343.18 105.53 L 340.18 105.53 Z" fill="#a81ef0"/>
<path d="M 344.98 107.33 L 346.48 104.73 L 343.48 104.73 Z" fill="#a81ef0"/>
<path d="M 348.28 106.32 L 349.78 103.72 L 346.78 103.72 Z" fill="#a81ef0"/>
<path d="M 351.58 105.31 L 353.08 102.71 L 350.08 102.71 Z" fill="#a81ef0"/>
<path d="M 354.87 104.00 L 356.37 101.40 L 353.37 101.40 Z" fill="#a81ef0"/>
<path d="M 358.17 102.69 L 359.67 100.09 L 356.67 100.09 Z" fill="#a81ef0"/>
<path d="M 361.47 101.16 L 362.97 98.56 L 359.97 98.56 Z" fill="#a81ef0"/>
<path d="M 364.76 99.62 L 366.26 97.03 L 363.26 97.03 Z" fill="#a81ef0"/>
<path d="M 368.06 98.31 L 369.56 95.71 L 366.56 95.71 Z" fill="#a81ef0"/>
<path d="M 371.36 97.00 L 372.86 94.40 L 369.86 94.40 Z" fill="#a81ef0"/>
<path d="M 374.66 95.69 L 376.16 93.09 L 373.16 93.09 Z" fill="#a81ef0"/>
<path d="M 377.96 94.38 L 379.46 91.78 L 376.46 91.78 Z" fill="#a81ef0"/>
<path d="M 381.25 93.24 L 382.75 90.64 L 379.75 90.64 Z" fill="#a81ef0"/>
<path d="M 384.55 92.10 L 386.05 89.50 L 383.05 89.50 Z" fill="#a81ef0"/>
<path d="M 387.85 90.39 L 389.35 87.79 L 386.35 87.79 Z" fill="#a81ef0"/>
<path d="M 391.14 88.69 L 392.64 86.09 L 389.64 86.09 Z" fill="#a81ef0"/>
<path d="M 394.44 87.16 L 395.94 84.56 L 392.94 84.56 Z" fill="#a81ef0"/>
<path d="M 397.74 85.62 L 399.24 83.03 L 396.24 83.03 Z" fill="#a81ef0"/>
<path d="M 401.04 84.09 L 402.54 81.49 L 399.54 81.49 Z" fill="#a81ef0"/>
<path d="M 404.34 82.56 L 405.84 79.96 L 402.84 79.96 Z" fill="#a81ef0"/>
<path d="M 407.63 81.03 L 409.13 78.43 L 406.13 78.43 Z" fill="#a81ef0"/>
<path d="M 410.93 79.50 L 412.43 76.90 L 409.43 76.90 Z" fill="#a81ef0"/>
<path d="M 414.23 77.53 L 415.73 74.93 L 412.73 74.93 Z" fill="#a81ef0"/>
<path d="M 417.52 75.56 L 419.02 72.96 L 416.02 72.96 Z" fill="#a81ef0"/>
<path d="M 420.82 73.59 L 422.32 70.99 L 419.32 70.99 Z" fill="#a81ef0"/>
<path d="M 424.12 71.62 L 425.62 69.03 L 422.62 69.03 Z" fill="#a81ef0"/>
<path d="M 427.42 69.66 L 428.92 67.06 L 425.92 67.06 Z" fill="#a81ef0"/>
<path d="M 430.72 67.69 L 432.22 65.09 L 429.22 65.09 Z" fill="#a81ef0"/>
<path d="M 434.01 66.16 L 435.51 63.56 L 432.51 63.56 Z" fill="#a81ef0"/>
<path d="M 437.31 64.62 L 438.81 62.02 L 435.81 62.02 Z" fill="#a81ef0"/>
<path d="M 440.61 63.53 L 442.11 60.93 L 439.11 60.93 Z" fill="#a81ef0"/>
<path d="M 443.90 62.44 L 445.40 59.84 L 442.40 59.84 Z" fill="#a81ef0"/>
<path d="M 447.20 61.56 L 448.70 58.96 L 445.70 58.96 Z" fill="#a81ef0"/>
<path d="M 450.50 60.69 L 452.00 58.09 L 449.00 58.09 Z" fill="#a81ef0"/>
<path d="M 318.60 108.62 L 318.60 110.38 M 317.20 108.62 L 320.00 108.62 M 317.20 110.38 L 320.00 110.38" stroke="#2fd42f" stroke-width="0.75" opacity="0.8"/>
<path d="M 321.90 108.33 L 321.90 110.32 M 320.50 108.33 L 323.30 108.33 M 320.50 110.32 L 323.30 110.32" stroke="#2fd42f" stroke-width="0.75" opacity="0.8"/>
<path d="M 325.20 108.03 L 325.20 110.27 M 323.80 108.03 L 326.60 108.03 M 323.80 110.27 L 326.60 110.27" stroke="#2fd42f" stroke-width="0.75" opacity="0.8"/>
<path d="M 328.49 107.74 L 328.49 110.21 M 327.09 107.74 L 329.89 107.74 M 327.09 110.21 L 329.89 110.21" stroke="#2fd42f" stroke-width="0.75" opacity="0.8"/>
<path d="M 331.79 107.44 L 331.79 110.16 M 330.39 107.44 L 333.19 107.44 M 330.39 110.16 L 333.19 110.16" stroke="#2fd42f" stroke-width="0.75" opacity="0.8"/>
<path d="M 335.09 106.43 L 335.09 109.38 M 333.69 106.43 L 336.49 106.43 M 333.69 109.38 L 336.49 109.38" stroke="#2fd42f" stroke-width="0.75" opacity="0.8"/>
<path d="M 338.38 105.41 L 338.38 108.60 M 336.99 105.41 L 339.78 105.41 M 336.99 108.60 L 339.78 108.60" stroke="#2fd42f" stroke-width="0.75" opacity="0.8"/>
<path d="M 341.68 104.39 L 341.68 107.83 M 340.28 104.39 L 343.08 104.39 M 340.28 107.83 L 343.08 107.83" stroke="#2fd42f" stroke-width="0.75" opacity="0.8"/>
<path d="M 344.98 103.38 L 344.98 107.05 M 343.58 103.38 L 346.38 103.38 M 343.58 107.05 L 346.38 107.05" stroke="#2fd42f" stroke-width="0.75" opacity="0.8"/>
<path d="M 348.28 101.90 L 348.28 105.81 M 346.88 101.90 L 349.68 101.90 M 346.88 105.81 L 349.68 105.81" stroke="#2fd42f" stroke-width="0.75" opacity="0.8"/>
<path d="M 351.58 100.42 L 351.58 104.58 M 350.18 100.42 L 352.98 100.42 M 350.18 104.58 L 352.98 104.58" stroke="#2fd42f" stroke-width="0.75" opacity="0.8"/>
<path d="M 354.87 98.55 L 354.87 102.95 M 353.47 98.55 L 356.27 98.55 M 353.47 102.95 L 356.27 102.95" stroke="#2fd42f" stroke-width="0.75" opacity="0.8"/>
<path d="M 358.17 96.68 L 358.17 101.32 M 356.77 96.68 L 359.57 96.68 M 356.77 101.32 L 359.57 101.32" stroke="#2fd42f" stroke-width="0.75" opacity="0.8"/>
<path d="M 361.47 94.85 L 361.47 99.73 M 360.07 94.85 L 362.87 94.85 M 360.07 99.73 L 362.87 99.73" stroke="#2fd42f" stroke-width="0.75" opacity="0.8"/>
<path d="M 364.76 93.03 L 364.76 98.15 M 363.37 93.03 L 366.16 93.03 M 363.37 98.15 L 366.16 98.15" stroke="#2fd42f" stroke-width="0.75" opacity="0.8"/>
<path d="M 368.06 91.33 L 368.06 96.69 M 366.66 91.33 L 369.46 91.33 M 366.66 96.69 L 369.46 96.69" stroke="#2fd42f" stroke-width="0.75" opacity="0.8"/>
<path d="M 371.36 89.64 L 371.36 95.24 M 369.96 89.64 L 372.76 89.64 M 369.96 95.24 L 372.76 95.24" stroke="#2fd42f" stroke-width="0.75" opacity="0.8"/>
<path d="M 374.66 87.99 L 374.66 93.83 M 373.26 87.99 L 376.06 87.99 M 373.26 93.83 L 376.06 93.83" stroke="#2fd42f" stroke-width="0.75" opacity="0.8"/>
<path d="M 377.96 86.33 L 377.96 92.42 M 376.56 86.33 L 379.36 86.33 M 376.56 92.42 L 379.36 92.42" stroke="#2fd42f" stroke-width="0.75" opacity="0.8"/>
<path d="M 381.25 84.46 L 381.25 90.79 M 379.85 84.46 L 382.65 84.46 M 379.85 90.79 L 382.65 90.79" stroke="#2fd42f" stroke-width="0.75" opacity="0.8"/>
<path d="M 384.55 82.59 L 384.55 89.16 M 383.15 82.59 L 385.95 82.59 M 383.15 89.16 L 385.95 89.16" stroke="#2fd42f" stroke-width="0.75" opacity="0.8"/>
<path d="M 387.85 80.50 L 387.85 87.31 M 386.45 80.50 L 389.25 80.50 M 386.45 87.31 L 389.25 87.31" stroke="#2fd42f" stroke-width="0.75" opacity="0.8"/>
<path d="M 391.14 78.42 L 391.14 85.46 M 389.75 78.42 L 392.54 78.42 M 389.75 85.46 L 392.54 85.46" stroke="#2fd42f" stroke-width="0.75" opacity="0.8"/>
<path d="M 394.44 76.33 L 394.44 83.61 M 393.04 76.33 L 395.84 76.33 M 393.04 83.61 L 395.84 83.61" stroke="#2fd42f" stroke-width="0.75" opacity="0.8"/>
<path d="M 397.74 74.24 L 397.74 81.76 M 396.34 74.24 L 399.14 74.24 M 396.34 81.76 L 399.14 81.76" stroke="#2fd42f" stroke-width="0.75" opacity="0.8"/>
<path d="M 401.04 71.93 L 401.04 79.70 M 399.64 71.93 L 402.44 71.93 M 399.64 79.70 L 402.44 79.70" stroke="#2fd42f" stroke-width="0.75" opacity="0.8"/>
<path d="M 404.34 69.62 L 404.34 77.63 M 402.94 69.62 L 405.74 69.62 M 402.94 77.63 L 405.74 77.63" stroke="#2fd42f" stroke-width="0.75" opacity="0.8"/>
<path d="M 407.63 67.53 L 407.63 75.78 M 406.23 67.53 L 409.03 67.53 M 406.23 75.78 L 409.03 75.78" stroke="#2fd42f" stroke-width="0.75" opacity="0.8"/>
<path d="M 410.93 65.44 L 410.93 73.93 M 409.53 65.44 L 412.33 65.44 M 409.53 73.93 L 412.33 73.93" stroke="#2fd42f" stroke-width="0.75" opacity="0.8"/>
<path d="M 414.23 62.70 L 414.23 71.43 M 412.83 62.70 L 415.63 62.70 M 412.83 71.43 L 415.63 71.43" stroke="#2fd42f" stroke-width="0.75" opacity="0.8"/>
<path d="M 417.52 59.95 L 417.52 68.92 M 416.12 59.95 L 418.92 59.95 M 416.12 68.92 L 418.92 68.92" stroke="#2fd42f" stroke-width="0.75" opacity="0.8"/>
<path d="M 420.82 56.99 L 420.82 66.20 M 419.42 56.99 L 422.22 56.99 M 419.42 66.20 L 422.22 66.20" stroke="#2fd42f" stroke-width="0.75" opacity="0.8"/>
<path d="M 424.12 54.02 L 424.12 63.48 M 422.72 54.02 L 425.52 54.02 M 422.72 63.48 L 425.52 63.48" stroke="#2fd42f" stroke-width="0.75" opacity="0.8"/>
<path d="M 427.42 51.06 L 427.42 60.75 M 426.02 51.06 L 428.82 51.06 M 426.02 60.75 L 428.82 60.75" stroke="#2fd42f" stroke-width="0.75" opacity="0.8"/>
<path d="M 430.72 48.10 L 430.72 58.03 M 429.32 48.10 L 432.12 48.10 M 429.32 58.03 L 432.12 58.03" stroke="#2fd42f" stroke-width="0.75" opacity="0.8"/>
<path d="M 434.01 45.57 L 434.01 55.74 M 432.61 45.57 L 435.41 45.57 M 432.61 55.74 L 435.41 55.74" stroke="#2fd42f" stroke-width="0.75" opacity="0.8"/>
<path d="M 437.31 43.04 L 437.31 53.46 M 435.91 43.04 L 438.71 43.04 M 435.91 53.46 L 438.71 53.46" stroke="#2fd42f" stroke-width="0.75" opacity="0.8"/>
<path d="M 440.61 41.17 L 440.61 51.83 M 439.21 41.17 L 442.01 41.17 M 439.21 51.83 L 442.01 51.83" stroke="#2fd42f" stroke-width="0.75" opacity="0.8"/>
<path d="M 443.90 39.30 L 443.90 50.20 M 442.50 39.30 L 445.30 39.30 M 442.50 50.20 L 445.30 50.20" stroke="#2fd42f" stroke-width="0.75" opacity="0.8"/>
<path d="M 447.20 37.65 L 447.20 48.79 M 445.80 37.65 L 448.60 37.65 M 445.80 48.79 L 448.60 48.79" stroke="#2fd42f" stroke-width="0.75" opacity="0.8"/>
<path d="M 450.50 36.00 L 450.50 47.38 M 449.10 36.00 L 451.90 36.00 M 449.10 47.38 L 451.90 47.38" stroke="#2fd42f" stroke-width="0.75" opacity="0.8"/>
<path d="M 318.60 109.50 L 321.90 109.33 L 325.20 109.15 L 328.49 108.97 L 331.79 108.80 L 335.09 107.90 L 338.38 107.01 L 341.68 106.11 L 344.98 105.21 L 348.28 103.86 L 351.58 102.50 L 354.87 100.75 L 358.17 99.00 L 361.47 97.29 L 364.76 95.59 L 368.06 94.01 L 371.36 92.44 L 374.66 90.91 L 377.96 89.38 L 381.25 87.62 L 384.55 85.88 L 387.85 83.91 L 391.14 81.94 L 394.44 79.97 L 397.74 78.00 L 401.04 75.81 L 404.34 73.62 L 407.63 71.66 L 410.93 69.69 L 414.23 67.06 L 417.52 64.44 L 420.82 61.59 L 424.12 58.75 L 427.42 55.91 L 430.72 53.06 L 434.01 50.66 L 437.31 48.25 L 440.61 46.50 L 443.90 44.75 L 447.20 43.22 L 450.50 41.69" fill="none" stroke="#2fd42f" stroke-width="0.9"/>
<circle cx="318.60" cy="109.50" r="1.3" fill="#14b014"/>
<circle cx="321.90" cy="109.33" r="1.3" fill="#14b014"/>
<circle cx="325.20" cy="109.15" r="1.3" fill="#14b014"/>
<circle cx="328.49" cy="108.97" r="1.3" fill="#14b014"/>
<circle cx="331.79" cy="108.80" r="1.3" fill="#14b014"/>
<circle cx="335.09" cy="107.90" r="1.3" fill="#14b014"/>
<circle cx="338.38" cy="107.01" r="1.3" fill="#14b014"/>
<circle cx="341.68" cy="106.11" r="1.3" fill="#14b014"/>
<circle cx="344.98" cy="105.21" r="1.3" fill="#14b014"/>
<circle cx="348.28" cy="103.86" r="1.3" fill="#14b014"/>
<circle cx="351.58" cy="102.50" r="1.3" fill="#14b014"/>
<circle cx="354.87" cy="100.75" r="1.3" fill="#14b014"/>
<circle cx="358.17" cy="99.00" r="1.3" fill="#14b014"/>
<circle cx="361.47" cy="97.29" r="1.3" fill="#14b014"/>
<circle cx="364.76" cy="95.59" r="1.3" fill="#14b014"/>
<circle cx="368.06" cy="94.01" r="1.3" fill="#14b014"/>
<circle cx="371.36" cy="92.44" r="1.3" fill="#14b014"/>
<circle cx="374.66" cy="90.91" r="1.3" fill="#14b014"/>
<circle cx="377.96" cy="89.38" r="1.3" fill="#14b014"/>
<circle cx="381.25" cy="87.62" r="1.3" fill="#14b014"/>
<circle cx="384.55" cy="85.88" r="1.3" fill="#14b014"/>
<circle cx="387.85" cy="83.91" r="1.3" fill="#14b014"/>
<circle cx="391.14" cy="81.94" r="1.3" fill="#14b014"/>
<circle cx="394.44" cy="79.97" r="1.3" fill="#14b014"/>
<circle cx="397.74" cy="78.00" r="1.3" fill="#14b014"/>
<circle cx="401.04" cy="75.81" r="1.3" fill="#14b014"/>
<circle cx="404.34" cy="73.62" r="1.3" fill="#14b014"/>
<circle cx="407.63" cy="71.66" r="1.3" fill="#14b014"/>
<circle cx="410.93" cy="69.69" r="1.3" fill="#14b014"/>
<circle cx="414.23" cy="67.06" r="1.3" fill="#14b014"/>
<circle cx="417.52" cy="64.44" r="1.3" fill="#14b014"/>
<circle cx="420.82" cy="61.59" r="1.3" fill="#14b014"/>
<circle cx="424.12" cy="58.75" r="1.3" fill="#14b014"/>
<circle cx="427.42" cy="55.91" r="1.3" fill="#14b014"/>
<circle cx="430.72" cy="53.06" r="1.3" fill="#14b014"/>
<circle cx="434.01" cy="50.66" r="1.3" fill="#14b014"/>
<circle cx="437.31" cy="48.25" r="1.3" fill="#14b014"/>
<circle cx="440.61" cy="46.50" r="1.3" fill="#14b014"/>
<circle cx="443.90" cy="44.75" r="1.3" fill="#14b014"/>
<circle cx="447.20" cy="43.22" r="1.3" fill="#14b014"/>
<circle cx="450.50" cy="41.69" r="1.3" fill="#14b014"/>
<path d="M 318.60 108.61 L 318.60 110.39 M 317.20 108.61 L 320.00 108.61 M 317.20 110.39 L 320.00 110.39" stroke="#0a0aff" stroke-width="0.75" opacity="0.8"/>
<path d="M 321.90 108.37 L 321.90 110.19 M 320.50 108.37 L 323.30 108.37 M 320.50 110.19 L 323.30 110.19" stroke="#0a0aff" stroke-width="0.75" opacity="0.8"/>
<path d="M 325.20 108.13 L 325.20 109.99 M 323.80 108.13 L 326.60 108.13 M 323.80 109.99 L 326.60 109.99" stroke="#0a0aff" stroke-width="0.75" opacity="0.8"/>
<path d="M 328.49 107.88 L 328.49 109.81 M 327.09 107.88 L 329.89 107.88 M 327.09 109.81 L 329.89 109.81" stroke="#0a0aff" stroke-width="0.75" opacity="0.8"/>
<path d="M 331.79 107.61 L 331.79 109.64 M 330.39 107.61 L 333.19 107.61 M 330.39 109.64 L 333.19 109.64" stroke="#0a0aff" stroke-width="0.75" opacity="0.8"/>
<path d="M 335.09 106.45 L 335.09 108.62 M 333.69 106.45 L 336.49 106.45 M 333.69 108.62 L 336.49 108.62" stroke="#0a0aff" stroke-width="0.75" opacity="0.8"/>
<path d="M 338.38 105.25 L 338.38 107.62 M 336.99 105.25 L 339.78 105.25 M 336.99 107.62 L 339.78 107.62" stroke="#0a0aff" stroke-width="0.75" opacity="0.8"/>
<path d="M 341.68 104.02 L 341.68 106.67 M 340.28 104.02 L 343.08 104.02 M 340.28 106.67 L 343.08 106.67" stroke="#0a0aff" stroke-width="0.75" opacity="0.8"/>
<path d="M 344.98 102.74 L 344.98 105.76 M 343.58 102.74 L 346.38 102.74 M 343.58 105.76 L 346.38 105.76" stroke="#0a0aff" stroke-width="0.75" opacity="0.8"/>
<path d="M 348.28 101.19 L 348.28 104.68 M 346.88 101.19 L 349.68 101.19 M 346.88 104.68 L 349.68 104.68" stroke="#0a0aff" stroke-width="0.75" opacity="0.8"/>
<path d="M 351.58 99.59 L 351.58 103.66 M 350.18 99.59 L 352.98 99.59 M 350.18 103.66 L 352.98 103.66" stroke="#0a0aff" stroke-width="0.75" opacity="0.8"/>
<path d="M 354.87 96.61 L 354.87 101.39 M 353.47 96.61 L 356.27 96.61 M 353.47 101.39 L 356.27 101.39" stroke="#0a0aff" stroke-width="0.75" opacity="0.8"/>
<path d="M 358.17 93.57 L 358.17 99.18 M 356.77 93.57 L 359.57 93.57 M 356.77 99.18 L 359.57 99.18" stroke="#0a0aff" stroke-width="0.75" opacity="0.8"/>
<path d="M 361.47 90.26 L 361.47 96.80 M 360.07 90.26 L 362.87 90.26 M 360.07 96.80 L 362.87 96.80" stroke="#0a0aff" stroke-width="0.75" opacity="0.8"/>
<path d="M 364.76 86.92 L 364.76 94.45 M 363.37 86.92 L 366.16 86.92 M 363.37 94.45 L 366.16 94.45" stroke="#0a0aff" stroke-width="0.75" opacity="0.8"/>
<path d="M 368.06 82.96 L 368.06 91.51 M 366.66 82.96 L 369.46 82.96 M 366.66 91.51 L 369.46 91.51" stroke="#0a0aff" stroke-width="0.75" opacity="0.8"/>
<path d="M 371.36 79.00 L 371.36 88.55 M 369.96 79.00 L 372.76 79.00 M 369.96 88.55 L 372.76 88.55" stroke="#0a0aff" stroke-width="0.75" opacity="0.8"/>
<path d="M 374.66 75.31 L 374.66 85.77 M 373.26 75.31 L 376.06 75.31 M 373.26 85.77 L 376.06 85.77" stroke="#0a0aff" stroke-width="0.75" opacity="0.8"/>
<path d="M 377.96 71.68 L 377.96 82.92 M 376.56 71.68 L 379.36 71.68 M 376.56 82.92 L 379.36 82.92" stroke="#0a0aff" stroke-width="0.75" opacity="0.8"/>
<path d="M 381.25 67.58 L 381.25 79.40 M 379.85 67.58 L 382.65 67.58 M 379.85 79.40 L 382.65 79.40" stroke="#0a0aff" stroke-width="0.75" opacity="0.8"/>
<path d="M 384.55 63.61 L 384.55 75.77 M 383.15 63.61 L 385.95 63.61 M 383.15 75.77 L 385.95 75.77" stroke="#0a0aff" stroke-width="0.75" opacity="0.8"/>
<path d="M 387.85 60.07 L 387.85 72.31 M 386.45 60.07 L 389.25 60.07 M 386.45 72.31 L 389.25 72.31" stroke="#0a0aff" stroke-width="0.75" opacity="0.8"/>
<path d="M 391.14 56.66 L 391.14 68.72 M 389.75 56.66 L 392.54 56.66 M 389.75 68.72 L 392.54 68.72" stroke="#0a0aff" stroke-width="0.75" opacity="0.8"/>
<path d="M 394.44 53.38 L 394.44 64.99 M 393.04 53.38 L 395.84 53.38 M 393.04 64.99 L 395.84 64.99" stroke="#0a0aff" stroke-width="0.75" opacity="0.8"/>
<path d="M 397.74 50.21 L 397.74 61.16 M 396.34 50.21 L 399.14 50.21 M 396.34 61.16 L 399.14 61.16" stroke="#0a0aff" stroke-width="0.75" opacity="0.8"/>
<path d="M 401.04 47.13 L 401.04 57.24 M 399.64 47.13 L 402.44 47.13 M 399.64 57.24 L 402.44 57.24" stroke="#0a0aff" stroke-width="0.75" opacity="0.8"/>
<path d="M 404.34 44.11 L 404.34 53.27 M 402.94 44.11 L 405.74 44.11 M 402.94 53.27 L 405.74 53.27" stroke="#0a0aff" stroke-width="0.75" opacity="0.8"/>
<path d="M 407.63 41.51 L 407.63 49.65 M 406.23 41.51 L 409.03 41.51 M 406.23 49.65 L 409.03 49.65" stroke="#0a0aff" stroke-width="0.75" opacity="0.8"/>
<path d="M 410.93 38.91 L 410.93 46.04 M 409.53 38.91 L 412.33 38.91 M 409.53 46.04 L 412.33 46.04" stroke="#0a0aff" stroke-width="0.75" opacity="0.8"/>
<path d="M 414.23 36.77 L 414.23 42.93 M 412.83 36.77 L 415.63 36.77 M 412.83 42.93 L 415.63 42.93" stroke="#0a0aff" stroke-width="0.75" opacity="0.8"/>
<path d="M 417.52 34.59 L 417.52 39.86 M 416.12 34.59 L 418.92 34.59 M 416.12 39.86 L 418.92 39.86" stroke="#0a0aff" stroke-width="0.75" opacity="0.8"/>
<path d="M 420.82 32.79 L 420.82 37.28 M 419.42 32.79 L 422.22 32.79 M 419.42 37.28 L 422.22 37.28" stroke="#0a0aff" stroke-width="0.75" opacity="0.8"/>
<path d="M 424.12 30.94 L 424.12 34.76 M 422.72 30.94 L 425.52 30.94 M 422.72 34.76 L 425.52 34.76" stroke="#0a0aff" stroke-width="0.75" opacity="0.8"/>
<path d="M 427.42 29.28 L 427.42 32.57 M 426.02 29.28 L 428.82 29.28 M 426.02 32.57 L 428.82 32.57" stroke="#0a0aff" stroke-width="0.75" opacity="0.8"/>
<path d="M 430.72 27.57 L 430.72 30.43 M 429.32 27.57 L 432.12 27.57 M 429.32 30.43 L 432.12 30.43" stroke="#0a0aff" stroke-width="0.75" opacity="0.8"/>
<path d="M 434.01 26.42 L 434.01 28.95 M 432.61 26.42 L 435.41 26.42 M 432.61 28.95 L 435.41 28.95" stroke="#0a0aff" stroke-width="0.75" opacity="0.8"/>
<path d="M 437.31 25.23 L 437.31 27.52 M 435.91 25.23 L 438.71 25.23 M 435.91 27.52 L 438.71 27.52" stroke="#0a0aff" stroke-width="0.75" opacity="0.8"/>
<path d="M 440.61 24.45 L 440.61 26.55 M 439.21 24.45 L 442.01 24.45 M 439.21 26.55 L 442.01 26.55" stroke="#0a0aff" stroke-width="0.75" opacity="0.8"/>
<path d="M 443.90 23.63 L 443.90 25.62 M 442.50 23.63 L 445.30 23.63 M 442.50 25.62 L 445.30 25.62" stroke="#0a0aff" stroke-width="0.75" opacity="0.8"/>
<path d="M 447.20 22.98 L 447.20 24.87 M 445.80 22.98 L 448.60 22.98 M 445.80 24.87 L 448.60 24.87" stroke="#0a0aff" stroke-width="0.75" opacity="0.8"/>
<path d="M 450.50 22.31 L 450.50 24.14 M 449.10 22.31 L 451.90 22.31 M 449.10 24.14 L 451.90 24.14" stroke="#0a0aff" stroke-width="0.75" opacity="0.8"/>
<path d="M 318.60 109.50 L 321.90 109.28 L 325.20 109.06 L 328.49 108.84 L 331.79 108.62 L 335.09 107.53 L 338.38 106.44 L 341.68 105.34 L 344.98 104.25 L 348.28 102.94 L 351.58 101.62 L 354.87 99.00 L 358.17 96.38 L 361.47 93.53 L 364.76 90.69 L 368.06 87.23 L 371.36 83.78 L 374.66 80.54 L 377.96 77.30 L 381.25 73.49 L 384.55 69.69 L 387.85 66.19 L 391.14 62.69 L 394.44 59.19 L 397.74 55.69 L 401.04 52.19 L 404.34 48.69 L 407.63 45.58 L 410.93 42.48 L 414.23 39.85 L 417.52 37.23 L 420.82 35.04 L 424.12 32.85 L 427.42 30.92 L 430.72 29.00 L 434.01 27.69 L 437.31 26.38 L 440.61 25.50 L 443.90 24.62 L 447.20 23.92 L 450.50 23.22" fill="none" stroke="#0a0aff" stroke-width="0.9"/>
<rect x="317.00" y="107.90" width="3.2" height="3.2" fill="#0a0aff"/>
<rect x="320.30" y="107.68" width="3.2" height="3.2" fill="#0a0aff"/>
<rect x="323.60" y="107.46" width="3.2" height="3.2" fill="#0a0aff"/>
<rect x="326.89" y="107.24" width="3.2" height="3.2" fill="#0a0aff"/>
<rect x="330.19" y="107.03" width="3.2" height="3.2" fill="#0a0aff"/>
<rect x="333.49" y="105.93" width="3.2" height="3.2" fill="#0a0aff"/>
<rect x="336.78" y="104.84" width="3.2" height="3.2" fill="#0a0aff"/>
<rect x="340.08" y="103.74" width="3.2" height="3.2" fill="#0a0aff"/>
<rect x="343.38" y="102.65" width="3.2" height="3.2" fill="#0a0aff"/>
<rect x="346.68" y="101.34" width="3.2" height="3.2" fill="#0a0aff"/>
<rect x="349.98" y="100.03" width="3.2" height="3.2" fill="#0a0aff"/>
<rect x="353.27" y="97.40" width="3.2" height="3.2" fill="#0a0aff"/>
<rect x="356.57" y="94.78" width="3.2" height="3.2" fill="#0a0aff"/>
<rect x="359.87" y="91.93" width="3.2" height="3.2" fill="#0a0aff"/>
<rect x="363.16" y="89.09" width="3.2" height="3.2" fill="#0a0aff"/>
<rect x="366.46" y="85.63" width="3.2" height="3.2" fill="#0a0aff"/>
<rect x="369.76" y="82.18" width="3.2" height="3.2" fill="#0a0aff"/>
<rect x="373.06" y="78.94" width="3.2" height="3.2" fill="#0a0aff"/>
<rect x="376.36" y="75.70" width="3.2" height="3.2" fill="#0a0aff"/>
<rect x="379.65" y="71.89" width="3.2" height="3.2" fill="#0a0aff"/>
<rect x="382.95" y="68.09" width="3.2" height="3.2" fill="#0a0aff"/>
<rect x="386.25" y="64.59" width="3.2" height="3.2" fill="#0a0aff"/>
<rect x="389.54" y="61.09" width="3.2" height="3.2" fill="#0a0aff"/>
<rect x="392.84" y="57.59" width="3.2" height="3.2" fill="#0a0aff"/>
<rect x="396.14" y="54.09" width="3.2" height="3.2" fill="#0a0aff"/>
<rect x="399.44" y="50.59" width="3.2" height="3.2" fill="#0a0aff"/>
<rect x="402.74" y="47.09" width="3.2" height="3.2" fill="#0a0aff"/>
<rect x="406.03" y="43.98" width="3.2" height="3.2" fill="#0a0aff"/>
<rect x="409.33" y="40.88" width="3.2" height="3.2" fill="#0a0aff"/>
<rect x="412.63" y="38.25" width="3.2" height="3.2" fill="#0a0aff"/>
<rect x="415.92" y="35.63" width="3.2" height="3.2" fill="#0a0aff"/>
<rect x="419.22" y="33.44" width="3.2" height="3.2" fill="#0a0aff"/>
<rect x="422.52" y="31.25" width="3.2" height="3.2" fill="#0a0aff"/>
<rect x="425.82" y="29.32" width="3.2" height="3.2" fill="#0a0aff"/>
<rect x="429.12" y="27.40" width="3.2" height="3.2" fill="#0a0aff"/>
<rect x="432.41" y="26.09" width="3.2" height="3.2" fill="#0a0aff"/>
<rect x="435.71" y="24.77" width="3.2" height="3.2" fill="#0a0aff"/>
<rect x="439.01" y="23.90" width="3.2" height="3.2" fill="#0a0aff"/>
<rect x="442.30" y="23.02" width="3.2" height="3.2" fill="#0a0aff"/>
<rect x="445.60" y="22.32" width="3.2" height="3.2" fill="#0a0aff"/>
<rect x="448.90" y="21.62" width="3.2" height="3.2" fill="#0a0aff"/>
<path d="M 325.20 108.56 L 325.20 110.27 M 323.80 108.56 L 326.60 108.56 M 323.80 110.27 L 326.60 110.27" stroke="#ff0000" stroke-width="0.75" opacity="0.8"/>
<path d="M 328.49 108.44 L 328.49 110.30 M 327.09 108.44 L 329.89 108.44 M 327.09 110.30 L 329.89 110.30" stroke="#ff0000" stroke-width="0.75" opacity="0.8"/>
<path d="M 331.79 108.32 L 331.79 110.33 M 330.39 108.32 L 333.19 108.32 M 330.39 110.33 L 333.19 110.33" stroke="#ff0000" stroke-width="0.75" opacity="0.8"/>
<path d="M 335.09 107.96 L 335.09 110.12 M 333.69 107.96 L 336.49 107.96 M 333.69 110.12 L 336.49 110.12" stroke="#ff0000" stroke-width="0.75" opacity="0.8"/>
<path d="M 338.38 107.60 L 338.38 109.92 M 336.99 107.60 L 339.78 107.60 M 336.99 109.92 L 339.78 109.92" stroke="#ff0000" stroke-width="0.75" opacity="0.8"/>
<path d="M 341.68 107.24 L 341.68 109.71 M 340.28 107.24 L 343.08 107.24 M 340.28 109.71 L 343.08 109.71" stroke="#ff0000" stroke-width="0.75" opacity="0.8"/>
<path d="M 344.98 106.88 L 344.98 109.50 M 343.58 106.88 L 346.38 106.88 M 343.58 109.50 L 346.38 109.50" stroke="#ff0000" stroke-width="0.75" opacity="0.8"/>
<path d="M 348.28 106.36 L 348.28 109.14 M 346.88 106.36 L 349.68 106.36 M 346.88 109.14 L 349.68 109.14" stroke="#ff0000" stroke-width="0.75" opacity="0.8"/>
<path d="M 351.58 105.85 L 351.58 108.78 M 350.18 105.85 L 352.98 105.85 M 350.18 108.78 L 352.98 108.78" stroke="#ff0000" stroke-width="0.75" opacity="0.8"/>
<path d="M 354.87 105.20 L 354.87 108.29 M 353.47 105.20 L 356.27 105.20 M 353.47 108.29 L 356.27 108.29" stroke="#ff0000" stroke-width="0.75" opacity="0.8"/>
<path d="M 358.17 104.56 L 358.17 107.79 M 356.77 104.56 L 359.57 104.56 M 356.77 107.79 L 359.57 107.79" stroke="#ff0000" stroke-width="0.75" opacity="0.8"/>
<path d="M 361.47 104.00 L 361.47 107.39 M 360.07 104.00 L 362.87 104.00 M 360.07 107.39 L 362.87 107.39" stroke="#ff0000" stroke-width="0.75" opacity="0.8"/>
<path d="M 364.76 103.44 L 364.76 106.98 M 363.37 103.44 L 366.16 103.44 M 363.37 106.98 L 366.16 106.98" stroke="#ff0000" stroke-width="0.75" opacity="0.8"/>
<path d="M 368.06 102.66 L 368.06 106.36 M 366.66 102.66 L 369.46 102.66 M 366.66 106.36 L 369.46 106.36" stroke="#ff0000" stroke-width="0.75" opacity="0.8"/>
<path d="M 371.36 101.89 L 371.36 105.74 M 369.96 101.89 L 372.76 101.89 M 369.96 105.74 L 372.76 105.74" stroke="#ff0000" stroke-width="0.75" opacity="0.8"/>
<path d="M 374.66 101.15 L 374.66 105.16 M 373.26 101.15 L 376.06 101.15 M 373.26 105.16 L 376.06 105.16" stroke="#ff0000" stroke-width="0.75" opacity="0.8"/>
<path d="M 377.96 100.42 L 377.96 104.58 M 376.56 100.42 L 379.36 100.42 M 376.56 104.58 L 379.36 104.58" stroke="#ff0000" stroke-width="0.75" opacity="0.8"/>
<path d="M 381.25 99.78 L 381.25 104.09 M 379.85 99.78 L 382.65 99.78 M 379.85 104.09 L 382.65 104.09" stroke="#ff0000" stroke-width="0.75" opacity="0.8"/>
<path d="M 384.55 99.13 L 384.55 103.59 M 383.15 99.13 L 385.95 99.13 M 383.15 103.59 L 385.95 103.59" stroke="#ff0000" stroke-width="0.75" opacity="0.8"/>
<path d="M 387.85 98.66 L 387.85 103.28 M 386.45 98.66 L 389.25 98.66 M 386.45 103.28 L 389.25 103.28" stroke="#ff0000" stroke-width="0.75" opacity="0.8"/>
<path d="M 391.14 98.19 L 391.14 102.96 M 389.75 98.19 L 392.54 98.19 M 389.75 102.96 L 392.54 102.96" stroke="#ff0000" stroke-width="0.75" opacity="0.8"/>
<path d="M 394.44 97.76 L 394.44 102.69 M 393.04 97.76 L 395.84 97.76 M 393.04 102.69 L 395.84 102.69" stroke="#ff0000" stroke-width="0.75" opacity="0.8"/>
<path d="M 397.74 97.34 L 397.74 102.41 M 396.34 97.34 L 399.14 97.34 M 396.34 102.41 L 399.14 102.41" stroke="#ff0000" stroke-width="0.75" opacity="0.8"/>
<path d="M 401.04 96.91 L 401.04 102.14 M 399.64 96.91 L 402.44 96.91 M 399.64 102.14 L 402.44 102.14" stroke="#ff0000" stroke-width="0.75" opacity="0.8"/>
<path d="M 404.34 96.48 L 404.34 101.87 M 402.94 96.48 L 405.74 96.48 M 402.94 101.87 L 405.74 101.87" stroke="#ff0000" stroke-width="0.75" opacity="0.8"/>
<path d="M 407.63 96.15 L 407.63 101.68 M 406.23 96.15 L 409.03 96.15 M 406.23 101.68 L 409.03 101.68" stroke="#ff0000" stroke-width="0.75" opacity="0.8"/>
<path d="M 410.93 95.81 L 410.93 101.49 M 409.53 95.81 L 412.33 95.81 M 409.53 101.49 L 412.33 101.49" stroke="#ff0000" stroke-width="0.75" opacity="0.8"/>
<path d="M 414.23 95.47 L 414.23 101.31 M 412.83 95.47 L 415.63 95.47 M 412.83 101.31 L 415.63 101.31" stroke="#ff0000" stroke-width="0.75" opacity="0.8"/>
<path d="M 417.52 95.13 L 417.52 101.12 M 416.12 95.13 L 418.92 95.13 M 416.12 101.12 L 418.92 101.12" stroke="#ff0000" stroke-width="0.75" opacity="0.8"/>
<path d="M 420.82 94.70 L 420.82 100.85 M 419.42 94.70 L 422.22 94.70 M 419.42 100.85 L 422.22 100.85" stroke="#ff0000" stroke-width="0.75" opacity="0.8"/>
<path d="M 424.12 94.28 L 424.12 100.58 M 422.72 94.28 L 425.52 94.28 M 422.72 100.58 L 425.52 100.58" stroke="#ff0000" stroke-width="0.75" opacity="0.8"/>
<path d="M 427.42 93.67 L 427.42 100.13 M 426.02 93.67 L 428.82 93.67 M 426.02 100.13 L 428.82 100.13" stroke="#ff0000" stroke-width="0.75" opacity="0.8"/>
<path d="M 430.72 93.07 L 430.72 99.68 M 429.32 93.07 L 432.12 93.07 M 429.32 99.68 L 432.12 99.68" stroke="#ff0000" stroke-width="0.75" opacity="0.8"/>
<path d="M 434.01 92.56 L 434.01 99.32 M 432.61 92.56 L 435.41 92.56 M 432.61 99.32 L 435.41 99.32" stroke="#ff0000" stroke-width="0.75" opacity="0.8"/>
<path d="M 437.31 92.04 L 437.31 98.96 M 435.91 92.04 L 438.71 92.04 M 435.91 98.96 L 438.71 98.96" stroke="#ff0000" stroke-width="0.75" opacity="0.8"/>
<path d="M 440.61 91.53 L 440.61 98.60 M 439.21 91.53 L 442.01 91.53 M 439.21 98.60 L 442.01 98.60" stroke="#ff0000" stroke-width="0.75" opacity="0.8"/>
<path d="M 443.90 91.02 L 443.90 98.23 M 442.50 91.02 L 445.30 91.02 M 442.50 98.23 L 445.30 98.23" stroke="#ff0000" stroke-width="0.75" opacity="0.8"/>
<path d="M 447.20 90.50 L 447.20 97.87 M 445.80 90.50 L 448.60 90.50 M 445.80 97.87 L 448.60 97.87" stroke="#ff0000" stroke-width="0.75" opacity="0.8"/>
<path d="M 450.50 89.99 L 450.50 97.51 M 449.10 89.99 L 451.90 89.99 M 449.10 97.51 L 451.90 97.51" stroke="#ff0000" stroke-width="0.75" opacity="0.8"/>
<path d="M 318.60 109.50 L 321.90 109.46 L 325.20 109.41 L 328.49 109.37 L 331.79 109.33 L 335.09 109.04 L 338.38 108.76 L 341.68 108.47 L 344.98 108.19 L 348.28 107.75 L 351.58 107.31 L 354.87 106.74 L 358.17 106.17 L 361.47 105.69 L 364.76 105.21 L 368.06 104.51 L 371.36 103.81 L 374.66 103.16 L 377.96 102.50 L 381.25 101.93 L 384.55 101.36 L 387.85 100.97 L 391.14 100.58 L 394.44 100.22 L 397.74 99.88 L 401.04 99.53 L 404.34 99.17 L 407.63 98.91 L 410.93 98.65 L 414.23 98.39 L 417.52 98.12 L 420.82 97.78 L 424.12 97.42 L 427.42 96.90 L 430.72 96.38 L 434.01 95.94 L 437.31 95.50 L 440.61 95.06 L 443.90 94.62 L 447.20 94.19 L 450.50 93.75" fill="none" stroke="#ff0000" stroke-width="0.9"/>
<circle cx="318.60" cy="109.50" r="2.0" fill="#ff0000"/>
<circle cx="321.90" cy="109.46" r="2.0" fill="#ff0000"/>
<circle cx="325.20" cy="109.41" r="2.0" fill="#ff0000"/>
<circle cx="328.49" cy="109.37" r="2.0" fill="#ff0000"/>
<circle cx="331.79" cy="109.33" r="2.0" fill="#ff0000"/>
<circle cx="335.09" cy="109.04" r="2.0" fill="#ff0000"/>
<circle cx="338.38" cy="108.76" r="2.0" fill="#ff0000"/>
<circle cx="341.68" cy="108.47" r="2.0" fill="#ff0000"/>
<circle cx="344.98" cy="108.19" r="2.0" fill="#ff0000"/>
<circle cx="348.28" cy="107.75" r="2.0" fill="#ff0000"/>
<circle cx="351.58" cy="107.31" r="2.0" fill="#ff0000"/>
<circle cx="354.87" cy="106.74" r="2.0" fill="#ff0000"/>
<circle cx="358.17" cy="106.17" r="2.0" fill="#ff0000"/>
<circle cx="361.47" cy="105.69" r="2.0" fill="#ff0000"/>
<circle cx="364.76" cy="105.21" r="2.0" fill="#ff0000"/>
<circle cx="368.06" cy="104.51" r="2.0" fill="#ff0000"/>
<circle cx="371.36" cy="103.81" r="2.0" fill="#ff0000"/>
<circle cx="374.66" cy="103.16" r="2.0" fill="#ff0000"/>
<circle cx="377.96" cy="102.50" r="2.0" fill="#ff0000"/>
<circle cx="381.25" cy="101.93" r="2.0" fill="#ff0000"/>
<circle cx="384.55" cy="101.36" r="2.0" fill="#ff0000"/>
<circle cx="387.85" cy="100.97" r="2.0" fill="#ff0000"/>
<circle cx="391.14" cy="100.58" r="2.0" fill="#ff0000"/>
<circle cx="394.44" cy="100.22" r="2.0" fill="#ff0000"/>
<circle cx="397.74" cy="99.88" r="2.0" fill="#ff0000"/>
<circle cx="401.04" cy="99.53" r="2.0" fill="#ff0000"/>
<circle cx="404.34" cy="99.17" r="2.0" fill="#ff0000"/>
<circle cx="407.63" cy="98.91" r="2.0" fill="#ff0000"/>
<circle cx="410.93" cy="98.65" r="2.0" fill="#ff0000"/>
<circle cx="414.23" cy="98.39" r="2.0" fill="#ff0000"/>
<circle cx="417.52" cy="98.12" r="2.0" fill="#ff0000"/>
<circle cx="420.82" cy="97.78" r="2.0" fill="#ff0000"/>
<circle cx="424.12" cy="97.42" r="2.0" fill="#ff0000"/>
<circle cx="427.42" cy="96.90" r="2.0" fill="#ff0000"/>
<circle cx="430.72" cy="96.38" r="2.0" fill="#ff0000"/>
<circle cx="434.01" cy="95.94" r="2.0" fill="#ff0000"/>
<circle cx="437.31" cy="95.50" r="2.0" fill="#ff0000"/>
<circle cx="440.61" cy="95.06" r="2.0" fill="#ff0000"/>
<circle cx="443.90" cy="94.62" r="2.0" fill="#ff0000"/>
<circle cx="447.20" cy="94.19" r="2.0" fill="#ff0000"/>
<circle cx="450.50" cy="93.75" r="2.0" fill="#ff0000"/>
</g>
<path d="M 318.6 22.0 L 318.6 109.8 L 450.5 109.8" fill="none" stroke="#000" stroke-width="1.1"/>
<line x1="315.0" y1="109.50" x2="318.6" y2="109.50" stroke="#000" stroke-width="1"/>
<text x="313.90" y="111.90" font-size="6.8" text-anchor="end" font-weight="bold" fill="#111" stroke="#111" stroke-width="0.18">0</text>
<line x1="315.0" y1="92.00" x2="318.6" y2="92.00" stroke="#000" stroke-width="1"/>
<text x="313.90" y="94.40" font-size="6.8" text-anchor="end" font-weight="bold" fill="#111" stroke="#111" stroke-width="0.18">20</text>
<line x1="315.0" y1="74.50" x2="318.6" y2="74.50" stroke="#000" stroke-width="1"/>
<text x="313.90" y="76.90" font-size="6.8" text-anchor="end" font-weight="bold" fill="#111" stroke="#111" stroke-width="0.18">40</text>
<line x1="315.0" y1="57.00" x2="318.6" y2="57.00" stroke="#000" stroke-width="1"/>
<text x="313.90" y="59.40" font-size="6.8" text-anchor="end" font-weight="bold" fill="#111" stroke="#111" stroke-width="0.18">60</text>
<line x1="315.0" y1="39.50" x2="318.6" y2="39.50" stroke="#000" stroke-width="1"/>
<text x="313.90" y="41.90" font-size="6.8" text-anchor="end" font-weight="bold" fill="#111" stroke="#111" stroke-width="0.18">80</text>
<line x1="315.0" y1="22.00" x2="318.6" y2="22.00" stroke="#000" stroke-width="1"/>
<text x="313.90" y="24.40" font-size="6.8" text-anchor="end" font-weight="bold" fill="#111" stroke="#111" stroke-width="0.18">100</text>
<line x1="318.60" y1="109.5" x2="318.60" y2="112.9" stroke="#000" stroke-width="1"/>
<text x="318.60" y="121.00" font-size="6.8" text-anchor="middle" font-weight="bold" fill="#111" stroke="#111" stroke-width="0.18">0</text>
<line x1="351.58" y1="109.5" x2="351.58" y2="112.9" stroke="#000" stroke-width="1"/>
<text x="351.58" y="121.00" font-size="6.8" text-anchor="middle" font-weight="bold" fill="#111" stroke="#111" stroke-width="0.18">25</text>
<line x1="384.55" y1="109.5" x2="384.55" y2="112.9" stroke="#000" stroke-width="1"/>
<text x="384.55" y="121.00" font-size="6.8" text-anchor="middle" font-weight="bold" fill="#111" stroke="#111" stroke-width="0.18">50</text>
<line x1="417.52" y1="109.5" x2="417.52" y2="112.9" stroke="#000" stroke-width="1"/>
<text x="417.52" y="121.00" font-size="6.8" text-anchor="middle" font-weight="bold" fill="#111" stroke="#111" stroke-width="0.18">75</text>
<line x1="450.50" y1="109.5" x2="450.50" y2="112.9" stroke="#000" stroke-width="1"/>
<text x="450.50" y="121.00" font-size="6.8" text-anchor="middle" font-weight="bold" fill="#111" stroke="#111" stroke-width="0.18">100</text>
<text x="384.50" y="131.60" font-size="8.0" text-anchor="middle" font-weight="bold" fill="#111" textLength="27.00" lengthAdjust="spacingAndGlyphs" stroke="#111" stroke-width="0.18">minutes</text>
<g transform="translate(289.6 65.1) rotate(-90)">
<text x="0.00" y="0.00" font-size="7.9" text-anchor="middle" font-weight="bold" fill="#111" textLength="55.60" lengthAdjust="spacingAndGlyphs" stroke="#111" stroke-width="0.18">ROS Production</text>
</g>
<g transform="translate(298.6 65.8) rotate(-90)">
<text x="0.00" y="0.00" font-size="7.9" text-anchor="middle" font-weight="bold" fill="#111" textLength="45.50" lengthAdjust="spacingAndGlyphs" stroke="#111" stroke-width="0.18">(% Maximum)</text>
</g>
<text x="281.70" y="10.80" font-size="12.2" text-anchor="start" font-weight="normal" fill="#1a1a1a" textLength="9.80" lengthAdjust="spacingAndGlyphs" stroke="#1a1a1a" stroke-width="0.2">b.</text>
<line x1="470.3" y1="27.60" x2="479.7" y2="27.60" stroke="#ff0000" stroke-width="0.9"/>
<circle cx="475" cy="27.60" r="1.5" fill="#ff0000"/>
<text x="485.20" y="30.35" font-size="7.35" text-anchor="start" font-weight="normal" fill="#1a1a1a" stroke="#1a1a1a" stroke-width="0.12">Untreated</text>
<line x1="470.3" y1="39.58" x2="479.7" y2="39.58" stroke="#0a0aff" stroke-width="0.9"/>
<rect x="473.6" y="38.18" width="2.8" height="2.8" fill="#0a0aff"/>
<text x="485.20" y="42.33" font-size="7.35" text-anchor="start" font-weight="normal" fill="#1a1a1a" stroke="#1a1a1a" stroke-width="0.12">PMA</text>
<line x1="470.3" y1="51.56" x2="479.7" y2="51.56" stroke="#000" stroke-width="0.9"/>
<path d="M 475 50.06 L 476.5 52.66 L 473.5 52.66 Z" fill="#000"/>
<text x="485.20" y="54.31" font-size="7.35" text-anchor="start" font-weight="normal" fill="#1a1a1a" stroke="#1a1a1a" stroke-width="0.12">HA-LFA1</text>
<line x1="470.3" y1="63.54" x2="479.7" y2="63.54" stroke="#a81ef0" stroke-width="0.9"/>
<path d="M 475 65.04 L 476.5 62.44 L 473.5 62.44 Z" fill="#a81ef0"/>
<text x="485.20" y="66.29" font-size="7.35" text-anchor="start" font-weight="normal" fill="#1a1a1a" stroke="#1a1a1a" stroke-width="0.12">fMLP</text>
<line x1="470.3" y1="75.52" x2="479.7" y2="75.52" stroke="#2fd42f" stroke-width="0.9"/>
<circle cx="475" cy="75.52" r="1.2" fill="#109010"/>
<text x="485.20" y="78.27" font-size="7.35" text-anchor="start" font-weight="normal" fill="#1a1a1a" stroke="#1a1a1a" stroke-width="0.12">HA-LFA1 + fMLP</text>
<line x1="470.3" y1="87.50" x2="479.7" y2="87.50" stroke="#000" stroke-width="0.9"/>
<circle cx="475" cy="87.50" r="1.5" fill="#fff" stroke="#000" stroke-width="0.9"/>
<text x="485.20" y="90.25" font-size="7.35" text-anchor="start" font-weight="normal" fill="#1a1a1a" stroke="#1a1a1a" stroke-width="0.12">fMLP + CD18 block</text>
<path d="M 50.8 139.75 L 50.8 240.0 L 153 240.0" fill="none" stroke="#000" stroke-width="1.3"/>
<line x1="46.5" y1="240.00" x2="50.8" y2="240.00" stroke="#000" stroke-width="1.1"/>
<text x="45.60" y="242.60" font-size="7.2" text-anchor="end" font-weight="bold" fill="#111" stroke="#111" stroke-width="0.18">0</text>
<line x1="46.5" y1="219.95" x2="50.8" y2="219.95" stroke="#000" stroke-width="1.1"/>
<text x="45.60" y="222.55" font-size="7.2" text-anchor="end" font-weight="bold" fill="#111" stroke="#111" stroke-width="0.18">1</text>
<line x1="46.5" y1="199.90" x2="50.8" y2="199.90" stroke="#000" stroke-width="1.1"/>
<text x="45.60" y="202.50" font-size="7.2" text-anchor="end" font-weight="bold" fill="#111" stroke="#111" stroke-width="0.18">2</text>
<line x1="46.5" y1="179.85" x2="50.8" y2="179.85" stroke="#000" stroke-width="1.1"/>
<text x="45.60" y="182.45" font-size="7.2" text-anchor="end" font-weight="bold" fill="#111" stroke="#111" stroke-width="0.18">3</text>
<line x1="46.5" y1="159.80" x2="50.8" y2="159.80" stroke="#000" stroke-width="1.1"/>
<text x="45.60" y="162.40" font-size="7.2" text-anchor="end" font-weight="bold" fill="#111" stroke="#111" stroke-width="0.18">4</text>
<line x1="46.5" y1="139.75" x2="50.8" y2="139.75" stroke="#000" stroke-width="1.1"/>
<text x="45.60" y="142.35" font-size="7.2" text-anchor="end" font-weight="bold" fill="#111" stroke="#111" stroke-width="0.18">5</text>
<line x1="66.6" y1="170.03" x2="66.6" y2="176.44" stroke="#000" stroke-width="1.1"/>
<line x1="62.699999999999996" y1="170.03" x2="70.5" y2="170.03" stroke="#000" stroke-width="1.1"/>
<rect x="59.39999999999999" y="177.04" width="14.4" height="62.96" fill="#000000" stroke="#000" stroke-width="1.3"/>
<line x1="66.6" y1="240.0" x2="66.6" y2="244.2" stroke="#000" stroke-width="1.1"/>
<line x1="90.0" y1="170.03" x2="90.0" y2="173.23" stroke="#000" stroke-width="1.1"/>
<line x1="86.1" y1="170.03" x2="93.9" y2="170.03" stroke="#000" stroke-width="1.1"/>
<rect x="82.8" y="173.83" width="14.4" height="66.17" fill="#a900dc" stroke="#000" stroke-width="1.3"/>
<line x1="90.0" y1="240.0" x2="90.0" y2="244.2" stroke="#000" stroke-width="1.1"/>
<line x1="113.4" y1="144.76" x2="113.4" y2="152.18" stroke="#000" stroke-width="1.1"/>
<line x1="109.5" y1="144.76" x2="117.30000000000001" y2="144.76" stroke="#000" stroke-width="1.1"/>
<rect x="106.2" y="152.78" width="14.4" height="87.22" fill="#00c000" stroke="#000" stroke-width="1.3"/>
<line x1="113.4" y1="240.0" x2="113.4" y2="244.2" stroke="#000" stroke-width="1.1"/>
<line x1="136.9" y1="214.54" x2="136.9" y2="222.56" stroke="#000" stroke-width="1.1"/>
<line x1="133.0" y1="214.54" x2="140.8" y2="214.54" stroke="#000" stroke-width="1.1"/>
<rect x="129.70000000000002" y="223.16" width="14.4" height="16.84" fill="#ffffff" stroke="#000" stroke-width="1.3"/>
<line x1="136.9" y1="240.0" x2="136.9" y2="244.2" stroke="#000" stroke-width="1.1"/>
<text x="66.20" y="166.00" font-size="8.4" text-anchor="middle" font-weight="normal" fill="#111" stroke="#111" stroke-width="0.15">#</text>
<text x="90.40" y="166.00" font-size="8.4" text-anchor="middle" font-weight="normal" fill="#111" stroke="#111" stroke-width="0.15">&amp;</text>
<g transform="translate(26.0 189.0) rotate(-90)">
<text x="0.00" y="0.00" font-size="8.6" text-anchor="middle" font-weight="bold" fill="#111" textLength="62.50" lengthAdjust="spacingAndGlyphs" stroke="#111" stroke-width="0.18">ROS production</text>
</g>
<g transform="translate(36.0 189.6) rotate(-90)">
<text x="0.00" y="0.00" font-size="8.6" text-anchor="middle" font-weight="bold" fill="#111" textLength="63.60" lengthAdjust="spacingAndGlyphs" stroke="#111" stroke-width="0.18">(Fold untreated)</text>
</g>
<text x="5.60" y="146.30" font-size="11" text-anchor="start" font-weight="normal" fill="#1a1a1a" textLength="8.60" lengthAdjust="spacingAndGlyphs" stroke="#1a1a1a" stroke-width="0.35">c.</text>
<text x="48.50" y="256.20" font-size="8.6" text-anchor="end" font-weight="normal" fill="#222" textLength="37.80" lengthAdjust="spacingAndGlyphs" stroke="#222" stroke-width="0.15">HA-LFA1 :</text>
<text x="48.50" y="271.70" font-size="8.6" text-anchor="end" font-weight="normal" fill="#222" textLength="24.60" lengthAdjust="spacingAndGlyphs" stroke="#222" stroke-width="0.15">fMLP :</text>
<text x="48.50" y="284.60" font-size="8.6" text-anchor="end" font-weight="normal" fill="#222" textLength="47.30" lengthAdjust="spacingAndGlyphs" stroke="#222" stroke-width="0.15">CD18 Block :</text>
<path d="M 66.40 252.70 L 69.80 252.70 M 68.10 251.00 L 68.10 254.40" stroke="#2a2a2a" stroke-width="0.95"/>
<path d="M 89.30 252.40 L 91.70 252.40" stroke="#2a2a2a" stroke-width="0.9"/>
<path d="M 112.40 252.70 L 115.80 252.70 M 114.10 251.00 L 114.10 254.40" stroke="#2a2a2a" stroke-width="0.95"/>
<path d="M 137.10 251.30 L 139.50 251.30" stroke="#2a2a2a" stroke-width="0.9"/>
<path d="M 67.10 268.70 L 69.50 268.70" stroke="#2a2a2a" stroke-width="0.9"/>
<path d="M 88.80 267.30 L 92.20 267.30 M 90.50 265.60 L 90.50 269.00" stroke="#2a2a2a" stroke-width="0.95"/>
<path d="M 112.40 268.50 L 115.80 268.50 M 114.10 266.80 L 114.10 270.20" stroke="#2a2a2a" stroke-width="0.95"/>
<path d="M 136.40 266.40 L 139.80 266.40 M 138.10 264.70 L 138.10 268.10" stroke="#2a2a2a" stroke-width="0.95"/>
<path d="M 67.40 282.70 L 69.80 282.70" stroke="#2a2a2a" stroke-width="0.9"/>
<path d="M 89.30 281.50 L 91.70 281.50" stroke="#2a2a2a" stroke-width="0.9"/>
<path d="M 113.40 282.70 L 115.80 282.70" stroke="#2a2a2a" stroke-width="0.9"/>
<path d="M 136.40 279.60 L 139.80 279.60 M 138.10 277.90 L 138.10 281.30" stroke="#2a2a2a" stroke-width="0.95"/>
<path d="M 323.4 134.6 L 323.4 233.1 L 422.3 233.1" fill="none" stroke="#000" stroke-width="1.2"/>
<line x1="319.2" y1="233.10" x2="323.4" y2="233.10" stroke="#000" stroke-width="1.1"/>
<text x="318.30" y="235.50" font-size="6.8" text-anchor="end" font-weight="bold" fill="#111" stroke="#111" stroke-width="0.18">0</text>
<line x1="319.2" y1="213.40" x2="323.4" y2="213.40" stroke="#000" stroke-width="1.1"/>
<text x="318.30" y="215.80" font-size="6.8" text-anchor="end" font-weight="bold" fill="#111" stroke="#111" stroke-width="0.18">20</text>
<line x1="319.2" y1="193.70" x2="323.4" y2="193.70" stroke="#000" stroke-width="1.1"/>
<text x="318.30" y="196.10" font-size="6.8" text-anchor="end" font-weight="bold" fill="#111" stroke="#111" stroke-width="0.18">40</text>
<line x1="319.2" y1="174.00" x2="323.4" y2="174.00" stroke="#000" stroke-width="1.1"/>
<text x="318.30" y="176.40" font-size="6.8" text-anchor="end" font-weight="bold" fill="#111" stroke="#111" stroke-width="0.18">60</text>
<line x1="319.2" y1="154.30" x2="323.4" y2="154.30" stroke="#000" stroke-width="1.1"/>
<text x="318.30" y="156.70" font-size="6.8" text-anchor="end" font-weight="bold" fill="#111" stroke="#111" stroke-width="0.18">80</text>
<line x1="319.2" y1="134.60" x2="323.4" y2="134.60" stroke="#000" stroke-width="1.1"/>
<text x="318.30" y="137.00" font-size="6.8" text-anchor="end" font-weight="bold" fill="#111" stroke="#111" stroke-width="0.18">100</text>
<line x1="338.6" y1="193.21" x2="338.6" y2="195.67" stroke="#000" stroke-width="1.1"/>
<line x1="334.90000000000003" y1="193.21" x2="342.3" y2="193.21" stroke="#000" stroke-width="1.1"/>
<rect x="331.6" y="196.27" width="14.0" height="36.83" fill="#0000ff" stroke="#000" stroke-width="1.2"/>
<line x1="338.6" y1="233.1" x2="338.6" y2="237.29999999999998" stroke="#000" stroke-width="1.1"/>
<line x1="361.45" y1="181.98" x2="361.45" y2="186.02" stroke="#000" stroke-width="1.1"/>
<line x1="357.75" y1="181.98" x2="365.15" y2="181.98" stroke="#000" stroke-width="1.1"/>
<rect x="354.45" y="186.62" width="14.0" height="46.48" fill="#000000" stroke="#000" stroke-width="1.2"/>
<line x1="361.45" y1="233.1" x2="361.45" y2="237.29999999999998" stroke="#000" stroke-width="1.1"/>
<line x1="384.3" y1="196.66" x2="384.3" y2="199.02" stroke="#000" stroke-width="1.1"/>
<line x1="380.6" y1="196.66" x2="388.0" y2="196.66" stroke="#000" stroke-width="1.1"/>
<rect x="377.3" y="199.62" width="14.0" height="33.48" fill="#a900dc" stroke="#000" stroke-width="1.2"/>
<line x1="384.3" y1="233.1" x2="384.3" y2="237.29999999999998" stroke="#000" stroke-width="1.1"/>
<line x1="407.15" y1="171.73" x2="407.15" y2="179.12" stroke="#000" stroke-width="1.1"/>
<line x1="403.45" y1="171.73" x2="410.84999999999997" y2="171.73" stroke="#000" stroke-width="1.1"/>
<rect x="400.15" y="179.72" width="14.0" height="53.38" fill="#00c000" stroke="#000" stroke-width="1.2"/>
<line x1="407.15" y1="233.1" x2="407.15" y2="237.29999999999998" stroke="#000" stroke-width="1.1"/>
<text x="339.60" y="187.30" font-size="9.2" text-anchor="middle" font-weight="normal" fill="#111" stroke="#111" stroke-width="0.15">#</text>
<text x="384.90" y="189.90" font-size="9.0" text-anchor="middle" font-weight="normal" fill="#111" stroke="#111" stroke-width="0.15">&amp;</text>
<g transform="translate(301.0 183.5) rotate(-90)">
<text x="0.00" y="0.00" font-size="8.4" text-anchor="middle" font-weight="bold" fill="#111" textLength="92.50" lengthAdjust="spacingAndGlyphs" stroke="#111" stroke-width="0.18">PMN Adhesion (% Input)</text>
</g>
<text x="280.60" y="147.90" font-size="12.4" text-anchor="start" font-weight="normal" fill="#1a1a1a" textLength="9.60" lengthAdjust="spacingAndGlyphs" stroke="#1a1a1a" stroke-width="0.2">d.</text>
<text x="320.10" y="249.70" font-size="8" text-anchor="end" font-weight="normal" fill="#222" textLength="21.20" lengthAdjust="spacingAndGlyphs" stroke="#222" stroke-width="0.15">PMA :</text>
<text x="320.10" y="265.90" font-size="8" text-anchor="end" font-weight="normal" fill="#222" textLength="36.30" lengthAdjust="spacingAndGlyphs" stroke="#222" stroke-width="0.15">HA-LFA1 :</text>
<text x="320.10" y="281.40" font-size="8" text-anchor="end" font-weight="normal" fill="#222" textLength="23.40" lengthAdjust="spacingAndGlyphs" stroke="#222" stroke-width="0.15">fMLP :</text>
<path d="M 337.30 247.00 L 340.30 247.00 M 338.80 245.50 L 338.80 248.50" stroke="#2a2a2a" stroke-width="0.95"/>
<path d="M 360.10 247.90 L 362.50 247.90" stroke="#2a2a2a" stroke-width="0.9"/>
<path d="M 384.60 247.90 L 387.00 247.90" stroke="#2a2a2a" stroke-width="0.9"/>
<path d="M 410.40 247.90 L 412.80 247.90" stroke="#2a2a2a" stroke-width="0.9"/>
<path d="M 338.00 263.50 L 340.40 263.50" stroke="#2a2a2a" stroke-width="0.9"/>
<path d="M 359.40 263.00 L 362.40 263.00 M 360.90 261.50 L 360.90 264.50" stroke="#2a2a2a" stroke-width="0.95"/>
<path d="M 384.60 263.50 L 387.00 263.50" stroke="#2a2a2a" stroke-width="0.9"/>
<path d="M 409.50 263.00 L 412.50 263.00 M 411.00 261.50 L 411.00 264.50" stroke="#2a2a2a" stroke-width="0.95"/>
<path d="M 338.00 278.80 L 340.40 278.80" stroke="#2a2a2a" stroke-width="0.9"/>
<path d="M 360.10 278.80 L 362.50 278.80" stroke="#2a2a2a" stroke-width="0.9"/>
<path d="M 383.70 278.30 L 386.70 278.30 M 385.20 276.80 L 385.20 279.80" stroke="#2a2a2a" stroke-width="0.95"/>
<path d="M 409.50 278.30 L 412.50 278.30 M 411.00 276.80 L 411.00 279.80" stroke="#2a2a2a" stroke-width="0.95"/>
</svg>
</body></html>
